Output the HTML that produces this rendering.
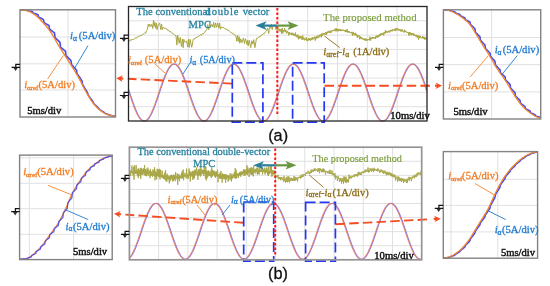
<!DOCTYPE html><html><head><meta charset="utf-8"><style>html,body{margin:0;padding:0;background:#fff;}svg{display:block;}</style></head><body>
<svg width="550" height="286" viewBox="0 0 550 286">
<rect width="550" height="286" fill="#fff"/>
<line x1="68" y1="10" x2="68" y2="117" stroke="#e0e0e0" stroke-width="1"/>
<line x1="20" y1="37" x2="115.5" y2="37" stroke="#e0e0e0" stroke-width="1"/>
<line x1="20" y1="63.8" x2="115.5" y2="63.8" stroke="#e0e0e0" stroke-width="1"/>
<line x1="20" y1="90" x2="115.5" y2="90" stroke="#e0e0e0" stroke-width="1"/>
<polyline points="20,9.8 20.5,9.8 21,9.8 21.5,9.8 22,9.9 22.5,9.93 23,9.96 23.5,9.99 24,10.01 24.5,10.04 25,10.06 25.5,10.08 26,10.11 26.5,10.13 27,10.15 27.5,10.65 28,10.73 28.5,10.81 29,10.89 29.5,10.97 30,11.06 30.5,11.15 31,11.25 31.5,11.35 32,11.45 32.5,11.56 33,12.98 33.5,13.14 34,13.3 34.5,13.46 35,13.62 35.5,13.79 36,13.97 36.5,14.14 37,14.33 37.5,14.51 38,14.7 38.5,17.01 39,17.26 39.5,17.5 40,17.76 40.5,18.01 41,18.27 41.5,18.53 42,18.8 42.5,19.07 43,19.34 43.5,19.62 44,22.67 44.5,22.96 45,23.25 45.5,23.53 46,23.82 46.5,24.12 47,24.41 47.5,24.71 48,25.01 48.5,25.31 49,25.61 49.5,29.16 50,29.51 50.5,29.88 51,30.25 51.5,30.62 52,31 52.5,31.39 53,31.77 53.5,32.16 54,32.56 54.5,32.96 55,37.63 55.5,38.08 56,38.54 56.5,39 57,39.46 57.5,39.93 58,40.41 58.5,40.88 59,41.36 59.5,41.83 60,42.3 60.5,47.14 61,47.56 61.5,47.97 62,48.38 62.5,48.79 63,49.19 63.5,49.6 64,50 64.5,50.41 65,50.82 65.5,51.23 66,55.77 66.5,56.22 67,56.67 67.5,57.13 68,57.61 68.5,58.1 69,58.59 69.5,59.1 70,59.62 70.5,60.15 71,60.7 71.5,64.55 72,65.07 72.5,65.6 73,66.14 73.5,66.7 74,67.27 74.5,67.86 75,68.46 75.5,69.08 76,69.72 76.5,70.36 77,73.78 77.5,74.41 78,75.05 78.5,75.71 79,76.4 79.5,77.1 80,77.82 80.5,78.57 81,79.34 81.5,80.13 82,80.96 82.5,84.2 83,85.05 83.5,85.93 84,86.8 84.5,87.67 85,88.53 85.5,89.36 86,90.19 86.5,91.03 87,91.89 87.5,92.65 88,94.78 88.5,95.52 89,96.24 89.5,96.96 90,97.66 90.5,98.35 91,99.02 91.5,99.67 92,100.3 92.5,100.92 93,101.51 93.5,103.12 94,103.66 94.5,104.19 95,104.7 95.5,105.2 96,105.69 96.5,106.16 97,106.62 97.5,107.07 98,107.51 98.5,107.93 99,109.07 99.5,109.44 100,109.8 100.5,110.15 101,110.49 101.5,110.82 102,111.13 102.5,111.43 103,111.72 103.5,112.01 104,112.28 104.5,112.99 105,113.23 105.5,113.46 106,113.67 106.5,113.86 107,114.05 107.5,114.22 108,114.38 108.5,114.54 109,114.68 109.5,114.82 110,115.18 110.5,115.31 111,115.43 111.5,115.55 112,115.67 112.5,115.77 113,115.85 113.5,115.93 114,115.99 114.5,116.05 115,116.1 115.5,116.26" fill="none" stroke="#4648f2" stroke-width="1.6" stroke-linejoin="round"/>
<polyline points="20,9.8 20.5,9.84 21,9.89 21.5,9.95 22,10 22.5,10.04 23,10.09 23.5,10.13 24,10.18 24.5,10.24 25,10.31 25.5,10.4 26,10.5 26.5,10.63 27,10.77 27.5,10.92 28,11.09 28.5,11.27 29,11.46 29.5,11.67 30,11.89 30.5,12.13 31,12.38 31.5,12.65 32,12.93 32.5,13.22 33,13.53 33.5,13.85 34,14.18 34.5,14.53 35,14.89 35.5,15.27 36,15.66 36.5,16.07 37,16.49 37.5,16.92 38,17.38 38.5,17.86 39,18.35 39.5,18.86 40,19.37 40.5,19.9 41,20.43 41.5,20.96 42,21.49 42.5,22.03 43,22.57 43.5,23.11 44,23.65 44.5,24.21 45,24.77 45.5,25.34 46,25.92 46.5,26.51 47,27.11 47.5,27.72 48,28.36 48.5,29.02 49,29.7 49.5,30.4 50,31.12 50.5,31.86 51,32.6 51.5,33.36 52,34.15 52.5,34.96 53,35.78 53.5,36.61 54,37.46 54.5,38.32 55,39.19 55.5,40.08 56,40.98 56.5,41.88 57,42.77 57.5,43.66 58,44.52 58.5,45.37 59,46.18 59.5,46.98 60,47.77 60.5,48.55 61,49.32 61.5,50.09 62,50.86 62.5,51.64 63,52.43 63.5,53.23 64,54.03 64.5,54.82 65,55.61 65.5,56.4 66,57.18 66.5,57.95 67,58.73 67.5,59.5 68,60.26 68.5,61.03 69,61.8 69.5,62.58 70,63.35 70.5,64.14 71,64.92 71.5,65.72 72,66.52 72.5,67.32 73,68.12 73.5,68.93 74,69.75 74.5,70.56 75,71.39 75.5,72.22 76,73.06 76.5,73.9 77,74.75 77.5,75.61 78,76.48 78.5,77.35 79,78.24 79.5,79.15 80,80.06 80.5,81 81,81.97 81.5,82.97 82,84 82.5,85.04 83,86.07 83.5,87.09 84,88.08 84.5,89.02 85,89.92 85.5,90.82 86,91.72 86.5,92.62 87,93.5 87.5,94.38 88,95.25 88.5,96.1 89,96.93 89.5,97.75 90,98.54 90.5,99.32 91,100.06 91.5,100.79 92,101.48 92.5,102.16 93,102.82 93.5,103.46 94,104.08 94.5,104.68 95,105.26 95.5,105.83 96,106.37 96.5,106.9 97,107.42 97.5,107.91 98,108.4 98.5,108.86 99,109.3 99.5,109.73 100,110.14 100.5,110.53 101,110.91 101.5,111.27 102,111.61 102.5,111.95 103,112.26 103.5,112.57 104,112.86 104.5,113.14 105,113.41 105.5,113.66 106,113.89 106.5,114.1 107,114.3 107.5,114.48 108,114.65 108.5,114.81 109,114.97 109.5,115.12 110,115.26 110.5,115.4 111,115.54 111.5,115.68 112,115.79 112.5,115.89 113,115.97 113.5,116.03 114,116.1 114.5,116.16 115,116.22 115.5,116.3" fill="none" stroke="#f2862c" stroke-width="1.4" stroke-linejoin="round"/>
<rect x="20" y="9.8" width="95.5" height="107.2" fill="none" stroke="#828282" stroke-width="1.4"/>
<path d="M20,64.3H15.8V67.4M11.6,67.4H20" fill="none" stroke="#111" stroke-width="1.2"/>
<path d="M13.4,67.8L17.8,67.8L15.6,71.1Z" fill="#333"/>
<text x="70.1" y="39" fill="#1c7ad0" stroke="#1c7ad0" stroke-width="0.28" font-family="Liberation Serif, serif" font-style="italic" font-size="10.9">i</text>
<text x="72.9" y="40.6" fill="#1c7ad0" stroke="#1c7ad0" stroke-width="0.28" font-family="Liberation Serif, serif" font-size="7.5">α</text>
<text x="115.3" y="39" fill="#1c7ad0" stroke="#1c7ad0" stroke-width="0.28" font-family="Liberation Serif, sans-serif" font-size="10.6" text-anchor="end">(5A/div)</text>
<line x1="88" y1="45.6" x2="74.3" y2="68.7" stroke="#1c7ad0" stroke-width="0.9"/>
<text x="24.2" y="88.2" fill="#f27a1e" stroke="#f27a1e" stroke-width="0.28" font-family="Liberation Serif, serif" font-style="italic" font-size="10.9">i</text>
<text x="27" y="89.8" fill="#f27a1e" stroke="#f27a1e" stroke-width="0.28" font-family="Liberation Serif, serif" font-size="6.9">αref</text>
<text x="75" y="88.2" fill="#f27a1e" stroke="#f27a1e" stroke-width="0.28" font-family="Liberation Serif, sans-serif" font-size="10.6" text-anchor="end">(5A/div)</text>
<line x1="47.6" y1="79" x2="63.3" y2="55.5" stroke="#f2862c" stroke-width="0.9"/>
<text x="27.2" y="114.2" fill="#111" stroke="#111" stroke-width="0.45" font-family="Liberation Serif, serif" font-size="10.6">5ms/div</text>
<line x1="158.35" y1="6.5" x2="158.35" y2="121" stroke="#e0e0e0" stroke-width="1"/>
<line x1="188.2" y1="6.5" x2="188.2" y2="121" stroke="#e0e0e0" stroke-width="1"/>
<line x1="218.05" y1="6.5" x2="218.05" y2="121" stroke="#e0e0e0" stroke-width="1"/>
<line x1="247.9" y1="6.5" x2="247.9" y2="121" stroke="#e0e0e0" stroke-width="1"/>
<line x1="277.75" y1="6.5" x2="277.75" y2="121" stroke="#e0e0e0" stroke-width="1"/>
<line x1="307.6" y1="6.5" x2="307.6" y2="121" stroke="#e0e0e0" stroke-width="1"/>
<line x1="337.45" y1="6.5" x2="337.45" y2="121" stroke="#e0e0e0" stroke-width="1"/>
<line x1="367.3" y1="6.5" x2="367.3" y2="121" stroke="#e0e0e0" stroke-width="1"/>
<line x1="397.15" y1="6.5" x2="397.15" y2="121" stroke="#e0e0e0" stroke-width="1"/>
<line x1="128.5" y1="20.81" x2="427" y2="20.81" stroke="#e0e0e0" stroke-width="1"/>
<line x1="128.5" y1="35.12" x2="427" y2="35.12" stroke="#e0e0e0" stroke-width="1"/>
<line x1="128.5" y1="49.44" x2="427" y2="49.44" stroke="#e0e0e0" stroke-width="1"/>
<line x1="128.5" y1="63.75" x2="427" y2="63.75" stroke="#e0e0e0" stroke-width="1"/>
<line x1="128.5" y1="78.06" x2="427" y2="78.06" stroke="#e0e0e0" stroke-width="1"/>
<line x1="128.5" y1="92.38" x2="427" y2="92.38" stroke="#e0e0e0" stroke-width="1"/>
<line x1="128.5" y1="106.69" x2="427" y2="106.69" stroke="#e0e0e0" stroke-width="1"/>
<polyline points="128.5,89.07 129,90.57 129.5,92.07 130,93.57 130.5,95.07 131,96.56 131.5,98.04 132,99.51 132.5,100.95 133,102.38 133.5,103.77 134,105.14 134.5,106.47 135,107.76 135.5,109.01 136,110.21 136.5,111.37 137,112.47 137.5,113.52 138,114.51 138.5,115.44 139,116.31 139.5,117.11 140,117.84 140.5,118.5 141,119.09 141.5,119.61 142,120.05 142.5,120.41 143,120.7 143.5,120.91 144,121.05 144.5,121.1 145,121.07 145.5,120.97 146,120.78 146.5,120.52 147,120.18 147.5,119.77 148,119.27 148.5,118.71 149,118.07 149.5,117.36 150,116.59 150.5,115.74 151,114.83 151.5,113.86 152,112.83 152.5,111.75 153,110.61 153.5,109.42 154,108.19 154.5,106.91 155,105.59 155.5,104.24 156,102.85 156.5,101.44 157,100 157.5,98.54 158,97.06 158.5,95.58 159,94.08 159.5,92.58 160,91.08 160.5,89.58 161,88.09 161.5,86.62 162,85.16 162.5,83.72 163,82.31 163.5,80.92 164,79.57 164.5,78.25 165,76.97 165.5,75.74 166,74.55 166.5,73.42 167,72.33 167.5,71.31 168,70.34 168.5,69.43 169,68.59 169.5,67.82 170,67.11 170.5,66.47 171,65.91 171.5,65.42 172,65.01 172.5,64.67 173,64.41 173.5,64.23 174,64.13 174.5,64.1 175,64.16 175.5,64.29 176,64.5 176.5,64.79 177,65.16 177.5,65.61 178,66.13 178.5,66.72 179,67.38 179.5,68.12 180,68.92 180.5,69.79 181,70.72 181.5,71.71 182,72.76 182.5,73.87 183,75.02 183.5,76.23 184,77.48 184.5,78.77 185,80.1 185.5,81.47 186,82.87 186.5,84.29 187,85.74 187.5,87.2 188,88.69 188.5,90.18 189,91.68 189.5,93.18 190,94.68 190.5,96.17 191,97.66 191.5,99.13 192,100.58 192.5,102.01 193,103.41 193.5,104.78 194,106.12 194.5,107.43 195,108.69 195.5,109.9 196,111.07 196.5,112.19 197,113.25 197.5,114.26 198,115.2 198.5,116.09 199,116.9 199.5,117.65 200,118.34 200.5,118.94 201,119.48 201.5,119.94 202,120.33 202.5,120.64 203,120.87 203.5,121.02 204,121.09 204.5,121.09 205,121 205.5,120.84 206,120.6 206.5,120.28 207,119.88 207.5,119.41 208,118.86 208.5,118.24 209,117.55 209.5,116.79 210,115.97 210.5,115.08 211,114.12 211.5,113.11 212,112.04 212.5,110.91 213,109.74 213.5,108.51 214,107.25 214.5,105.94 215,104.59 215.5,103.22 216,101.81 216.5,100.38 217,98.92 217.5,97.45 218,95.96 218.5,94.47 219,92.97 219.5,91.47 220,89.97 220.5,88.48 221,87 221.5,85.53 222,84.09 222.5,82.67 223,81.28 223.5,79.92 224,78.59 224.5,77.3 225,76.06 225.5,74.86 226,73.71 226.5,72.61 227,71.57 227.5,70.58 228,69.66 228.5,68.8 229,68.01 229.5,67.29 230,66.63 230.5,66.05 231,65.54 231.5,65.11 232,64.75 232.5,64.47 233,64.27 233.5,64.14 234,64.1 234.5,64.13 235,64.25 235.5,64.44 236,64.71 236.5,65.06 237,65.48 237.5,65.98 238,66.56 238.5,67.2 239,67.92 239.5,68.7 240,69.56 240.5,70.47 241,71.45 241.5,72.48 242,73.57 242.5,74.72 243,75.91 243.5,77.15 244,78.43 244.5,79.75 245,81.11 245.5,82.5 246,83.92 246.5,85.36 247,86.82 247.5,88.3 248,89.79 248.5,91.29 249,92.79 249.5,94.29 250,95.78 250.5,97.27 251,98.75 251.5,100.2 252,101.64 252.5,103.05 253,104.43 253.5,105.78 254,107.09 254.5,108.36 255,109.59 255.5,110.77 256,111.9 256.5,112.98 257,114 257.5,114.96 258,115.86 258.5,116.7 259,117.47 259.5,118.16 260,118.79 260.5,119.35 261,119.83 261.5,120.23 262,120.56 262.5,120.81 263,120.99 263.5,121.08 264,121.1 264.5,121.03 265,120.89 265.5,120.67 266,120.37 266.5,119.99 267,119.54 267.5,119.01 268,118.41 268.5,117.74 269,117 269.5,116.19 270,115.31 270.5,114.38 271,113.38 271.5,112.32 272,111.21 272.5,110.05 273,108.84 273.5,107.58 274,106.28 274.5,104.95 275,103.58 275.5,102.18 276,100.75 276.5,99.3 277,97.83 277.5,96.35 278,94.86 278.5,93.36 279,91.86 279.5,90.36 280,88.86 280.5,87.38 281,85.91 281.5,84.46 282,83.04 282.5,81.64 283,80.27 283.5,78.93 284,77.63 284.5,76.38 285,75.16 285.5,74 286,72.89 286.5,71.83 287,70.83 287.5,69.9 288,69.02 288.5,68.21 289,67.47 289.5,66.79 290,66.19 290.5,65.67 291,65.21 291.5,64.83 292,64.53 292.5,64.31 293,64.17 293.5,64.1 294,64.12 294.5,64.21 295,64.38 295.5,64.63 296,64.96 296.5,65.37 297,65.85 297.5,66.4 298,67.03 298.5,67.73 299,68.49 299.5,69.33 300,70.23 300.5,71.19 301,72.21 301.5,73.28 302,74.41 302.5,75.6 303,76.82 303.5,78.1 304,79.41 304.5,80.76 305,82.14 305.5,83.55 306,84.98 306.5,86.44 307,87.91 307.5,89.4 308,90.9 308.5,92.4 309,93.9 309.5,95.4 310,96.89 310.5,98.36 311,99.83 311.5,101.27 312,102.68 312.5,104.07 313,105.43 313.5,106.75 314,108.04 314.5,109.28 315,110.47 315.5,111.62 316,112.71 316.5,113.74 317,114.72 317.5,115.64 318,116.49 318.5,117.27 319,117.99 319.5,118.64 320,119.21 320.5,119.71 321,120.14 321.5,120.49 322,120.76 322.5,120.95 323,121.06 323.5,121.1 324,121.06 324.5,120.93 325,120.73 325.5,120.45 326,120.1 326.5,119.66 327,119.16 327.5,118.58 328,117.92 328.5,117.2 329,116.41 329.5,115.55 330,114.63 330.5,113.64 331,112.6 331.5,111.5 332,110.35 332.5,109.16 333,107.91 333.5,106.62 334,105.3 334.5,103.94 335,102.54 335.5,101.12 336,99.68 336.5,98.22 337,96.74 337.5,95.25 338,93.75 338.5,92.25 339,90.75 339.5,89.25 340,87.77 340.5,86.29 341,84.84 341.5,83.41 342,82 342.5,80.62 343,79.27 343.5,77.97 344,76.7 344.5,75.47 345,74.3 345.5,73.17 346,72.1 346.5,71.09 347,70.13 347.5,69.24 348,68.41 348.5,67.65 349,66.96 349.5,66.34 350,65.8 350.5,65.32 351,64.93 351.5,64.61 352,64.36 352.5,64.2 353,64.11 353.5,64.11 354,64.18 354.5,64.33 355,64.56 355.5,64.87 356,65.25 356.5,65.71 357,66.25 357.5,66.86 358,67.54 358.5,68.29 359,69.1 359.5,69.99 360,70.93 360.5,71.94 361,73 361.5,74.12 362,75.28 362.5,76.5 363,77.76 363.5,79.06 364,80.4 364.5,81.78 365,83.18 365.5,84.61 366,86.06 366.5,87.53 367,89.01 367.5,90.51 368,92.01 368.5,93.51 369,95.01 369.5,96.5 370,97.98 370.5,99.45 371,100.89 371.5,102.32 372,103.72 372.5,105.08 373,106.41 373.5,107.71 374,108.96 374.5,110.17 375,111.32 375.5,112.43 376,113.48 376.5,114.47 377,115.4 377.5,116.27 378,117.08 378.5,117.81 379,118.48 379.5,119.07 380,119.59 380.5,120.03 381,120.4 381.5,120.69 382,120.91 382.5,121.04 383,121.1 383.5,121.08 384,120.97 384.5,120.79 385,120.53 385.5,120.2 386,119.78 386.5,119.3 387,118.73 387.5,118.1 388,117.39 388.5,116.62 389,115.78 389.5,114.87 390,113.9 390.5,112.88 391,111.79 391.5,110.66 392,109.47 392.5,108.24 393,106.96 393.5,105.65 394,104.29 394.5,102.91 395,101.5 395.5,100.06 396,98.6 396.5,97.12 397,95.63 397.5,94.14 398,92.64 398.5,91.14 399,89.64 399.5,88.15 400,86.68 400.5,85.22 401,83.78 401.5,82.36 402,80.97 402.5,79.62 403,78.3 403.5,77.02 404,75.79 404.5,74.6 405,73.46 405.5,72.38 406,71.35 406.5,70.38 407,69.47 407.5,68.62 408,67.84 408.5,67.14 409,66.5 409.5,65.93 410,65.44 410.5,65.02 411,64.68 411.5,64.42 412,64.23 412.5,64.13 413,64.1 413.5,64.15 414,64.28 414.5,64.49 415,64.78 415.5,65.15 416,65.59 416.5,66.1 417,66.69 417.5,67.35 418,68.09 418.5,68.89 419,69.75 419.5,70.68 420,71.67 420.5,72.72 421,73.82 421.5,74.98 422,76.18 422.5,77.43 423,78.72 423.5,80.05 424,81.41 424.5,82.81 425,84.23 425.5,85.68 426,87.15 426.5,88.63 427,90.12" fill="none" stroke="#6656f0" stroke-width="1.1" stroke-linejoin="round" stroke-opacity="0.8"/>
<polyline points="128.5,91.17 129,92.67 129.5,94.17 130,95.66 130.5,97.15 131,98.63 131.5,100.09 132,101.52 132.5,102.94 133,104.32 133.5,105.67 134,106.99 134.5,108.26 135,109.5 135.5,110.68 136,111.82 136.5,112.9 137,113.92 137.5,114.89 138,115.79 138.5,116.63 139,117.41 139.5,118.11 140,118.75 140.5,119.31 141,119.79 141.5,120.2 142,120.54 142.5,120.8 143,120.98 143.5,121.08 144,121.1 144.5,121.04 145,120.9 145.5,120.69 146,120.4 146.5,120.02 147,119.58 147.5,119.06 148,118.46 148.5,117.8 149,117.06 149.5,116.26 150,115.39 150.5,114.45 151,113.46 151.5,112.41 152,111.3 152.5,110.14 153,108.93 153.5,107.68 154,106.39 154.5,105.06 155,103.69 155.5,102.29 156,100.87 156.5,99.42 157,97.95 157.5,96.47 158,94.98 158.5,93.48 159,91.98 159.5,90.48 160,88.98 160.5,87.5 161,86.03 161.5,84.58 162,83.15 162.5,81.75 163,80.37 163.5,79.04 164,77.73 164.5,76.47 165,75.26 165.5,74.09 166,72.98 166.5,71.92 167,70.91 167.5,69.97 168,69.09 168.5,68.27 169,67.52 169.5,66.85 170,66.24 170.5,65.7 171,65.25 171.5,64.86 172,64.56 172.5,64.33 173,64.18 173.5,64.11 174,64.11 174.5,64.2 175,64.37 175.5,64.61 176,64.93 176.5,65.33 177,65.81 177.5,66.35 178,66.98 178.5,67.67 179,68.43 179.5,69.26 180,70.15 180.5,71.11 181,72.12 181.5,73.2 182,74.32 182.5,75.5 183,76.72 183.5,77.99 184,79.3 184.5,80.65 185,82.03 185.5,83.43 186,84.87 186.5,86.32 187,87.8 187.5,89.28 188,90.78 188.5,92.28 189,93.78 189.5,95.28 190,96.77 190.5,98.25 191,99.71 191.5,101.15 192,102.57 192.5,103.96 193,105.32 193.5,106.65 194,107.94 194.5,109.18 195,110.38 195.5,111.53 196,112.62 196.5,113.66 197,114.64 197.5,115.56 198,116.42 198.5,117.21 199,117.94 199.5,118.59 200,119.17 200.5,119.67 201,120.11 201.5,120.46 202,120.74 202.5,120.94 203,121.06 203.5,121.1 204,121.06 204.5,120.95 205,120.75 205.5,120.48 206,120.13 206.5,119.7 207,119.2 207.5,118.62 208,117.98 208.5,117.26 209,116.47 209.5,115.62 210,114.7 210.5,113.72 211,112.69 211.5,111.59 212,110.45 212.5,109.25 213,108.01 213.5,106.73 214,105.41 214.5,104.05 215,102.66 215.5,101.24 216,99.8 216.5,98.33 217,96.86 217.5,95.37 218,93.87 218.5,92.37 219,90.87 219.5,89.37 220,87.88 220.5,86.41 221,84.95 221.5,83.52 222,82.11 222.5,80.73 223,79.38 223.5,78.07 224,76.8 224.5,75.57 225,74.39 225.5,73.26 226,72.19 226.5,71.17 227,70.21 227.5,69.31 228,68.48 228.5,67.71 229,67.02 229.5,66.39 230,65.84 230.5,65.36 231,64.95 231.5,64.63 232,64.38 232.5,64.21 233,64.12 233.5,64.1 234,64.17 234.5,64.32 235,64.54 235.5,64.84 236,65.22 236.5,65.68 237,66.2 237.5,66.81 238,67.48 238.5,68.23 239,69.04 239.5,69.91 240,70.85 240.5,71.85 241,72.91 241.5,74.02 242,75.19 242.5,76.4 243,77.66 243.5,78.96 244,80.29 244.5,81.66 245,83.07 245.5,84.49 246,85.94 246.5,87.41 247,88.89 247.5,90.39 248,91.89 248.5,93.39 249,94.89 249.5,96.38 250,97.86 250.5,99.33 251,100.78 251.5,102.21 252,103.61 252.5,104.97 253,106.31 253.5,107.61 254,108.86 254.5,110.07 255,111.23 255.5,112.34 256,113.4 256.5,114.39 257,115.33 257.5,116.21 258,117.01 258.5,117.75 259,118.42 259.5,119.02 260,119.55 260.5,120 261,120.38 261.5,120.67 262,120.89 262.5,121.03 263,121.1 263.5,121.08 264,120.98 264.5,120.81 265,120.56 265.5,120.23 266,119.82 266.5,119.34 267,118.78 267.5,118.15 268,117.45 268.5,116.68 269,115.85 269.5,114.95 270,113.98 270.5,112.96 271,111.88 271.5,110.75 272,109.57 272.5,108.34 273,107.07 273.5,105.75 274,104.4 274.5,103.02 275,101.61 275.5,100.17 276,98.72 276.5,97.24 277,95.75 277.5,94.26 278,92.76 278.5,91.26 279,89.76 279.5,88.27 280,86.79 280.5,85.33 281,83.89 281.5,82.47 282,81.08 282.5,79.73 283,78.41 283.5,77.12 284,75.89 284.5,74.69 285,73.55 285.5,72.46 286,71.43 286.5,70.45 287,69.54 287.5,68.69 288,67.9 288.5,67.19 289,66.55 289.5,65.97 290,65.48 290.5,65.05 291,64.71 291.5,64.44 292,64.25 292.5,64.13 293,64.1 293.5,64.15 294,64.27 294.5,64.47 295,64.76 295.5,65.11 296,65.55 296.5,66.06 297,66.64 297.5,67.3 298,68.03 298.5,68.82 299,69.68 299.5,70.6 300,71.59 300.5,72.63 301,73.73 301.5,74.88 302,76.08 302.5,77.33 303,78.62 303.5,79.94 304,81.3 304.5,82.7 305,84.12 305.5,85.56 306,87.03 306.5,88.51 307,90 307.5,91.5 308,93 308.5,94.5 309,95.99 309.5,97.48 310,98.95 310.5,100.4 311,101.84 311.5,103.24 312,104.62 312.5,105.97 313,107.27 313.5,108.54 314,109.76 314.5,110.94 315,112.06 315.5,113.13 316,114.14 316.5,115.09 317,115.98 317.5,116.81 318,117.57 318.5,118.26 319,118.87 319.5,119.42 320,119.89 320.5,120.29 321,120.6 321.5,120.84 322,121.01 322.5,121.09 323,121.09 323.5,121.02 324,120.86 324.5,120.63 325,120.32 325.5,119.93 326,119.47 326.5,118.93 327,118.32 327.5,117.64 328,116.89 328.5,116.07 329,115.19 329.5,114.24 330,113.23 330.5,112.17 331,111.05 331.5,109.88 332,108.66 332.5,107.4 333,106.1 333.5,104.76 334,103.38 334.5,101.98 335,100.55 335.5,99.1 336,97.63 336.5,96.14 337,94.65 337.5,93.15 338,91.65 338.5,90.15 339,88.66 339.5,87.18 340,85.71 340.5,84.26 341,82.84 341.5,81.44 342,80.08 342.5,78.75 343,77.45 343.5,76.2 344,75 344.5,73.84 345,72.74 345.5,71.69 346,70.7 346.5,69.77 347,68.9 347.5,68.1 348,67.37 348.5,66.71 349,66.11 349.5,65.6 350,65.15 350.5,64.79 351,64.5 351.5,64.29 352,64.16 352.5,64.1 353,64.13 353.5,64.23 354,64.41 354.5,64.68 355,65.01 355.5,65.43 356,65.92 356.5,66.48 357,67.12 357.5,67.83 358,68.61 358.5,69.45 359,70.36 359.5,71.33 360,72.35 360.5,73.44 361,74.58 361.5,75.76 362,77 362.5,78.28 363,79.59 363.5,80.95 364,82.33 364.5,83.75 365,85.19 365.5,86.65 366,88.12 366.5,89.61 367,91.11 367.5,92.61 368,94.11 368.5,95.6 369,97.09 369.5,98.57 370,100.03 370.5,101.47 371,102.88 371.5,104.27 372,105.62 372.5,106.94 373,108.21 373.5,109.45 374,110.63 374.5,111.77 375,112.86 375.5,113.88 376,114.85 376.5,115.76 377,116.6 377.5,117.38 378,118.08 378.5,118.72 379,119.29 379.5,119.78 380,120.19 380.5,120.53 381,120.79 381.5,120.97 382,121.07 382.5,121.1 383,121.04 383.5,120.91 384,120.7 384.5,120.41 385,120.04 385.5,119.6 386,119.08 386.5,118.49 387,117.82 387.5,117.09 388,116.29 388.5,115.42 389,114.49 389.5,113.5 390,112.45 390.5,111.35 391,110.19 391.5,108.98 392,107.73 392.5,106.44 393,105.11 393.5,103.74 394,102.35 394.5,100.92 395,99.48 395.5,98.01 396,96.53 396.5,95.04 397,93.54 397.5,92.04 398,90.54 398.5,89.04 399,87.56 399.5,86.09 400,84.64 400.5,83.21 401,81.8 401.5,80.43 402,79.09 402.5,77.79 403,76.52 403.5,75.31 404,74.14 404.5,73.02 405,71.96 405.5,70.95 406,70.01 406.5,69.12 407,68.3 407.5,67.55 408,66.87 408.5,66.26 409,65.72 409.5,65.26 410,64.88 410.5,64.57 411,64.34 411.5,64.18 412,64.11 412.5,64.11 413,64.2 413.5,64.36 414,64.6 414.5,64.92 415,65.31 415.5,65.79 416,66.33 416.5,66.95 417,67.64 417.5,68.4 418,69.22 418.5,70.12 419,71.07 419.5,72.08 420,73.15 420.5,74.28 421,75.45 421.5,76.67 422,77.94 422.5,79.25 423,80.59 423.5,81.97 424,83.38 424.5,84.81 425,86.26 425.5,87.74 426,89.22 426.5,90.72 427,92.22" fill="none" stroke="#e77a58" stroke-width="1.05" stroke-linejoin="round" stroke-opacity="0.85"/>
<polyline points="128.5,40.56 129.4,41.16 130.3,39.73 131.2,40.6 132.1,39.08 133,39.89 133.9,38.87 134.8,38.84 135.7,37.46 136.6,38.15 137.5,36.62 138.4,36.88 139.3,36.03 140.2,36.07 141.1,35.03 142,35.3 142.9,34.35 143.8,33.92 144.7,32.93 145.6,33.05 146.5,30.45 147.4,29.29 148.3,24.24 148.98,26.56 149.7,24.2 150.83,26.49 151.75,24.25 152.76,28.49 153.54,20.07 154.18,26.34 154.78,22.16 155.57,28.16 156.36,22.94 156.99,29.7 158.1,24.73 158.92,24.19 159.63,22.93 160.79,29.64 161.6,24.11 162.26,29.58 163.38,27.12 164.28,28.29 165.18,28.1 166.08,28.96 166.98,28.89 167.88,30.56 168.78,30.31 169.68,31.85 170.58,31.51 171.48,32.81 172.38,33.08 173.28,34.12 174.18,34.63 175.08,35.46 175.98,35.5 176.88,45.08 177.64,35.27 179.23,43.38 180.23,37.44 181.43,46.57 182.48,38.91 183.14,47.71 183.77,39.38 185.21,42.42 186.54,40.86 187.77,47.02 188.48,39.31 189.23,47.42 190.12,39.35 191.72,47.29 193.3,39.07 194.2,39.29 195.1,37.9 196,38.15 196.9,37 197.8,36.9 198.7,36 199.6,35.9 200.5,34.5 201.4,35.39 202.3,33.77 203.2,33.97 204.1,32.68 205,31.94 205.9,30.37 206.8,29.81 207.7,24.69 208.77,29.63 209.77,22.61 210.79,26.68 211.85,24.47 212.84,27.08 213.59,22.45 214.68,27.95 215.49,22.81 216.59,27.23 217.71,22.99 218.88,28.21 219.58,22.91 220.47,29.22 221.51,26.68 222.41,27.72 223.31,27.2 224.21,28.54 225.11,28.28 226.01,29.55 226.91,29.12 227.81,30.68 228.71,30.31 229.61,31.42 230.51,31.91 231.41,32.99 232.31,32.89 233.21,34.17 234.11,34.2 235.01,35.77 235.91,35.91 236.81,41.34 237.64,35.26 238.37,41.31 239.15,36.67 239.79,43.23 240.77,38.83 241.96,42.65 243.46,37.91 244.46,43.57 245.47,38.64 246.91,44.56 247.54,40.33 248.24,45.83 249.18,40.26 250.73,47.68 251.75,40.76 253,44.15 253.74,39.65 254.9,47.66 256.47,38.35 257.37,38.52 258.27,37.09 259.17,37.1 260.07,36.37 260.97,36.17 261.87,34.67 262.77,34.49 263.67,33.19 264.57,33.45 265.47,31.73 266.37,30.96 267.55,28.09 268.7,33.44 269.6,25.91 270.79,28.29 271.46,24.25 272.24,29.68 272.85,26.34 273.92,24.81 275.11,25.32 275.99,29.85 277.04,26.89 277.5,28 277.5,28.38 278.1,30.07 278.7,28.43 279.3,31.32 279.9,29.1 280.5,31.42 281.1,28.84 281.7,33.7 282.3,27.94 282.9,33.31 283.5,30.3 284.1,31.45 284.7,28.26 285.3,31.87 285.9,30.19 286.5,33.44 287.1,30.86 287.7,32.67 288.3,32.16 288.9,35.43 289.5,32.04 290.1,33.9 290.7,33.02 291.3,35.05 291.9,32.62 292.5,34.72 293.1,33.14 293.7,35.52 294.3,33.93 294.9,36.04 295.5,32.6 296.1,36.65 296.7,35.21 297.3,37.58 297.9,34.62 298.5,39.28 299.1,36.04 299.7,38.47 300.3,35.95 300.9,38.48 301.5,36.6 302.1,39.95 302.7,35.5 303.3,39.36 303.9,37.62 304.5,40.33 305.1,38.72 305.7,39.69 306.3,37.33 306.9,41.1 307.5,39.24 308.1,40.72 308.7,38.24 309.3,40.18 309.9,38.04 310.5,40.52 311.1,38.42 311.7,40.11 312.3,37 312.9,39.51 313.5,37.66 314.1,38.53 314.7,36.6 315.3,40.59 315.9,36.79 316.5,38.67 317.1,35.78 317.7,38.15 318.3,35.56 318.9,37.54 319.5,34.8 320.1,36.26 320.7,34.29 321.3,37.49 321.9,33.44 322.5,35.97 323.1,32.94 323.7,34.34 324.3,33.13 324.9,34.7 325.5,32.25 326.1,35 326.7,32.11 327.3,33.4 327.9,31.24 328.5,32.66 329.1,30.76 329.7,32.84 330.3,30.78 330.9,33.04 331.5,30.63 332.1,31.56 332.7,30.05 333.3,30.75 333.9,29.8 334.5,31.06 335.1,28.65 335.7,31.22 336.3,28.28 336.9,31.3 337.5,29.06 338.1,31.27 338.7,28.98 339.3,30.73 339.9,28.91 340.5,31.1 341.1,29.53 341.7,30.97 342.3,29.73 342.9,30.95 343.5,29.72 344.1,31.07 344.7,30.34 345.3,32.1 345.9,29.77 346.5,31.98 347.1,29.22 347.7,32.67 348.3,30.99 348.9,32.49 349.5,31.36 350.1,33.02 350.7,32 351.3,33.19 351.9,31.89 352.5,35.91 353.1,31.9 353.7,34.7 354.3,33.32 354.9,35.32 355.5,32.8 356.1,35.72 356.7,34.13 357.3,37.74 357.9,35.17 358.5,36.68 359.1,35.4 359.7,39.25 360.3,36.44 360.9,38.77 361.5,37.12 362.1,39.23 362.7,37.95 363.3,39.9 363.9,38.62 364.5,40.28 365.1,38.35 365.7,40.75 366.3,38.86 366.9,40.88 367.5,39.21 368.1,40.07 368.7,39.05 369.3,40.3 369.9,36.77 370.5,40.55 371.1,37.58 371.7,38.87 372.3,36.93 372.9,38.71 373.5,37.22 374.1,38.45 374.7,37.28 375.3,38.93 375.9,35.91 376.5,37.65 377.1,35.2 377.7,37.56 378.3,35.21 378.9,37.08 379.5,34.3 380.1,36 380.7,33.38 381.3,35.13 381.9,33.41 382.5,34.59 383.1,32.71 383.7,35.42 384.3,31.97 384.9,33.73 385.5,30.14 386.1,32.9 386.7,31.2 387.3,32.72 387.9,31.06 388.5,32.18 389.1,30.44 389.7,32.54 390.3,30.18 390.9,31.31 391.5,29.81 392.1,31.36 392.7,29.14 393.3,30.21 393.9,29.44 394.5,31 395.1,28.44 395.7,31.12 396.3,28.11 396.9,29.97 397.5,28.44 398.1,30.47 398.7,28.85 399.3,30.56 399.9,29.24 400.5,31.36 401.1,29.34 401.7,31.36 402.3,29.58 402.9,31.53 403.5,30.79 404.1,32.53 404.7,29.85 405.3,32 405.9,30.99 406.5,32.54 407.1,31.91 407.7,32.97 408.3,32.19 408.9,35.7 409.5,32.17 410.1,34.8 410.7,32.59 411.3,35.23 411.9,33.05 412.5,34.68 413.1,33.17 413.7,35.98 414.3,33.95 414.9,35.47 415.5,34.87 416.1,36.91 416.7,34.93 417.3,37.72 417.9,35.37 418.5,39.47 419.1,35.54 419.7,38.17 420.3,35.94 420.9,37.81 421.5,37.05 422.1,38.41 422.7,36.07 423.3,38.61 423.9,36.78 424.5,39.5 425.1,36.98 425.7,39.3 426.3,38.46 426.9,39.3" fill="none" stroke="#a8a640" stroke-width="1" stroke-linejoin="round"/>
<line x1="232.3" y1="83.6" x2="127.79" y2="78.82" stroke="#f64c22" stroke-width="1.9" stroke-dasharray="9.5,4.2"/>
<line x1="123.29" y1="78.62" x2="120.3" y2="78.48" stroke="#f64c22" stroke-width="2.1"/>
<path d="M116.3,78.3L122.84,75.3L120.9,78.51L122.54,81.89Z" fill="#f64c22"/>
<line x1="324.5" y1="85.7" x2="430.5" y2="85.7" stroke="#f64c22" stroke-width="1.9" stroke-dasharray="9.5,4.2"/>
<line x1="435" y1="85.7" x2="438" y2="85.7" stroke="#f64c22" stroke-width="2.1"/>
<path d="M442,85.7L435.6,89L437.4,85.7L435.6,82.4Z" fill="#f64c22"/>
<rect x="232.3" y="62.8" width="30.6" height="59.4" fill="none" stroke="#2438f2" stroke-width="1.7" stroke-dasharray="10,4"/>
<rect x="292.6" y="62.8" width="31.6" height="59.4" fill="none" stroke="#2438f2" stroke-width="1.7" stroke-dasharray="10,4"/>
<line x1="277.3" y1="8" x2="277.3" y2="115.5" stroke="#ff1c1c" stroke-width="2" stroke-dasharray="2.6,1.9"/>
<line x1="264" y1="25.6" x2="277.3" y2="25.6" stroke="#2a7f98" stroke-width="2.2"/>
<path d="M255.5,25.6L266.5,21.3L264,25.6L266.5,29.9Z" fill="#2a7f98"/>
<line x1="277.3" y1="25.6" x2="290" y2="25.6" stroke="#6a9640" stroke-width="2.2"/>
<path d="M298.5,25.6L287.5,21.3L290,25.6L287.5,29.9Z" fill="#6a9640"/>
<rect x="128.5" y="6.5" width="298.5" height="114.5" fill="none" stroke="#262626" stroke-width="1.3"/>
<path d="M128.3,35.2H124.1V38.3M119.9,38.3H128.3" fill="none" stroke="#111" stroke-width="1.2"/>
<path d="M121.7,38.7L126.1,38.7L123.9,42Z" fill="#333"/>
<path d="M128.3,92.4H124.1V95.5M119.9,95.5H128.3" fill="none" stroke="#111" stroke-width="1.2"/>
<path d="M121.7,95.9L126.1,95.9L123.9,99.2Z" fill="#333"/>
<text x="136.3" y="14.6" fill="#25819f" stroke="#25819f" stroke-width="0.28" font-family="Liberation Serif, serif" font-size="10.6">The conventional</text>
<text x="205.6" y="14.6" fill="#25819f" stroke="#25819f" stroke-width="0.28" font-family="Liberation Serif, serif" font-size="10.6" textLength="32.8" lengthAdjust="spacing">double</text>
<text x="242.8" y="14.6" fill="#25819f" stroke="#25819f" stroke-width="0.28" font-family="Liberation Serif, serif" font-size="10.6">vector</text>
<text x="188.6" y="27.8" fill="#25819f" stroke="#25819f" stroke-width="0.28" font-family="Liberation Serif, serif" font-size="10.6">MPC</text>
<text x="323.1" y="20.6" fill="#789a36" stroke="#789a36" stroke-width="0.12" font-family="Liberation Serif, serif" font-size="10.72">The proposed method</text>
<text x="128" y="63" fill="#f27a1e" stroke="#f27a1e" stroke-width="0.28" font-family="Liberation Serif, serif" font-style="italic" font-size="10.9">i</text>
<text x="130.8" y="64.6" fill="#f27a1e" stroke="#f27a1e" stroke-width="0.28" font-family="Liberation Serif, serif" font-size="6.9">αref</text>
<text x="181.3" y="63" fill="#f27a1e" stroke="#f27a1e" stroke-width="0.28" font-family="Liberation Serif, sans-serif" font-size="10.6" text-anchor="end">(5A/div)</text>
<text x="189.4" y="63" fill="#1c7ad0" stroke="#1c7ad0" stroke-width="0.28" font-family="Liberation Serif, serif" font-style="italic" font-size="10.5">i</text>
<text x="192.2" y="64.6" fill="#1c7ad0" stroke="#1c7ad0" stroke-width="0.28" font-family="Liberation Serif, serif" font-size="7.5">α</text>
<text x="234.9" y="63" fill="#1c7ad0" stroke="#1c7ad0" stroke-width="0.28" font-family="Liberation Serif, sans-serif" font-size="10.2" text-anchor="end">(5A/div)</text>
<line x1="155" y1="64" x2="165" y2="73" stroke="#f2862c" stroke-width="0.9"/>
<line x1="190" y1="63" x2="183" y2="74" stroke="#1c7ad0" stroke-width="0.9"/>
<text x="323.3" y="54.9" fill="#8a6a12" stroke="#8a6a12" stroke-width="0.28" font-family="Liberation Serif, serif" font-size="10.5"><tspan font-style="italic" font-size="11">i</tspan><tspan font-size="7.6" dy="1.8">αref</tspan><tspan dy="-1.8" font-style="italic">-i</tspan><tspan font-size="7.6" dy="1.8">α</tspan></text>
<text x="353.2" y="54.9" fill="#8a6a12" stroke="#8a6a12" stroke-width="0.28" font-family="Liberation Serif, serif" font-size="10.5">(1A/div)</text>
<line x1="324.4" y1="36" x2="339.7" y2="47.6" stroke="#8a6a12" stroke-width="0.9"/>
<text x="390.3" y="118.5" fill="#111" stroke="#111" stroke-width="0.45" font-family="Liberation Serif, serif" font-size="10.6">10ms/div</text>
<line x1="491.6" y1="9.8" x2="491.6" y2="119" stroke="#e0e0e0" stroke-width="1"/>
<line x1="443.4" y1="37.5" x2="540.7" y2="37.5" stroke="#e0e0e0" stroke-width="1"/>
<line x1="443.4" y1="64.6" x2="540.7" y2="64.6" stroke="#e0e0e0" stroke-width="1"/>
<line x1="443.4" y1="91.9" x2="540.7" y2="91.9" stroke="#e0e0e0" stroke-width="1"/>
<polyline points="443.4,9.8 443.9,9.8 444.4,9.8 444.9,9.8 445.4,9.93 445.9,9.95 446.4,9.98 446.9,10 447.4,10.03 447.9,10.06 448.41,10.1 448.91,10.14 449.41,10.19 449.91,10.25 450.41,10.79 450.91,10.89 451.41,11 451.91,11.12 452.41,11.24 452.91,11.37 453.41,11.5 453.91,11.65 454.41,11.79 454.91,11.94 455.41,12.96 455.91,13.13 456.41,13.3 456.91,13.47 457.41,13.64 457.91,13.81 458.42,13.99 458.92,14.17 459.42,14.36 459.92,14.55 460.42,15.89 460.92,16.1 461.42,16.33 461.92,16.56 462.42,16.79 462.92,17.02 463.42,17.26 463.92,17.5 464.42,17.75 464.92,18 465.42,19.69 465.92,19.94 466.42,20.18 466.92,20.43 467.42,20.68 467.93,20.94 468.43,21.2 468.93,21.48 469.43,21.76 469.93,22.06 470.43,24.49 470.93,24.93 471.43,25.38 471.93,25.83 472.43,26.3 472.93,26.77 473.43,27.26 473.93,27.75 474.43,28.25 474.93,28.75 475.43,32.19 475.93,32.72 476.43,33.25 476.93,33.77 477.43,34.3 477.94,34.83 478.44,35.35 478.94,35.87 479.44,36.38 479.94,36.9 480.44,40.33 480.94,40.85 481.44,41.38 481.94,41.9 482.44,42.43 482.94,42.96 483.44,43.48 483.94,44.01 484.44,44.53 484.94,45.06 485.44,48.49 485.94,49 486.44,49.5 486.94,50 487.45,50.5 487.95,50.99 488.45,51.48 488.95,51.97 489.45,52.47 489.95,52.96 490.45,56.31 490.95,56.84 491.45,57.38 491.95,57.93 492.45,58.48 492.95,59.03 493.45,59.59 493.95,60.15 494.45,60.72 494.95,61.29 495.45,65.01 495.95,65.56 496.45,66.11 496.95,66.64 497.46,67.17 497.96,67.69 498.46,68.21 498.96,68.71 499.46,69.2 499.96,69.68 500.46,72.73 500.96,73.17 501.46,73.62 501.96,74.06 502.46,74.5 502.96,74.93 503.46,75.37 503.96,75.81 504.46,76.26 504.96,76.7 505.46,79.74 505.96,80.23 506.46,80.72 506.97,81.22 507.47,81.72 507.97,82.23 508.47,82.75 508.97,83.27 509.47,83.8 509.97,84.33 510.47,87.88 510.97,88.41 511.47,88.94 511.97,89.46 512.47,89.99 512.97,90.5 513.47,91.02 513.97,91.54 514.47,92.06 514.97,92.58 515.47,96.03 515.97,96.54 516.47,97.05 516.98,97.55 517.48,98.04 517.98,98.52 518.48,99 518.98,99.47 519.48,99.93 519.98,100.38 520.48,103.18 520.98,103.58 521.48,103.97 521.98,104.36 522.48,104.74 522.98,105.11 523.48,105.48 523.98,105.84 524.48,106.2 524.98,106.54 525.48,108.67 525.98,108.96 526.49,109.25 526.99,109.52 527.49,109.79 527.99,110.05 528.49,110.31 528.99,110.57 529.49,110.82 529.99,111.06 530.49,112.64 530.99,112.88 531.49,113.11 531.99,113.35 532.49,113.58 532.99,113.81 533.49,114.03 533.99,114.25 534.49,114.47 534.99,114.68 535.49,115.95 535.99,116.13 536.5,116.29 537,116.45 537.5,116.6 538,116.74 538.5,116.88 539,117.01 539.5,117.14 540,117.26 540.5,118.03 541,118.11" fill="none" stroke="#4648f2" stroke-width="1.6" stroke-linejoin="round"/>
<polyline points="443.4,9.8 443.9,9.85 444.4,9.89 444.9,9.93 445.4,9.97 445.9,10.01 446.4,10.06 446.9,10.12 447.4,10.19 447.9,10.28 448.41,10.39 448.91,10.51 449.41,10.65 449.91,10.8 450.41,10.97 450.91,11.15 451.41,11.35 451.91,11.56 452.41,11.78 452.91,12.01 453.41,12.25 453.91,12.49 454.41,12.74 454.91,12.99 455.41,13.25 455.91,13.51 456.41,13.78 456.91,14.06 457.41,14.35 457.91,14.64 458.42,14.95 458.92,15.26 459.42,15.58 459.92,15.92 460.42,16.26 460.92,16.62 461.42,16.99 461.92,17.36 462.42,17.74 462.92,18.13 463.42,18.53 463.92,18.94 464.42,19.34 464.92,19.73 465.42,20.12 465.92,20.5 466.42,20.9 466.92,21.32 467.42,21.76 467.93,22.23 468.43,22.74 468.93,23.29 469.43,23.91 469.93,24.57 470.43,25.25 470.93,25.97 471.43,26.7 471.93,27.46 472.43,28.24 472.93,29.02 473.43,29.83 473.93,30.64 474.43,31.46 474.93,32.28 475.43,33.11 475.93,33.93 476.43,34.75 476.93,35.57 477.43,36.38 477.94,37.18 478.44,37.98 478.94,38.79 479.44,39.6 479.94,40.42 480.44,41.24 480.94,42.06 481.44,42.88 481.94,43.71 482.44,44.53 482.94,45.35 483.44,46.17 483.94,46.98 484.44,47.79 484.94,48.59 485.44,49.38 485.94,50.15 486.44,50.93 486.94,51.7 487.45,52.46 487.95,53.24 488.45,54.01 488.95,54.8 489.45,55.6 489.95,56.41 490.45,57.25 490.95,58.1 491.45,58.96 491.95,59.84 492.45,60.72 492.95,61.61 493.45,62.49 493.95,63.38 494.45,64.25 494.95,65.12 495.45,65.98 495.95,66.82 496.45,67.63 496.95,68.43 497.46,69.2 497.96,69.95 498.46,70.69 498.96,71.41 499.46,72.12 499.96,72.82 500.46,73.51 500.96,74.2 501.46,74.89 501.96,75.57 502.46,76.26 502.96,76.96 503.46,77.66 503.96,78.37 504.46,79.1 504.96,79.84 505.46,80.6 505.96,81.38 506.46,82.18 506.97,82.99 507.47,83.81 507.97,84.64 508.47,85.48 508.97,86.32 509.47,87.15 509.97,87.99 510.47,88.82 510.97,89.64 511.47,90.45 511.97,91.26 512.47,92.07 512.97,92.89 513.47,93.71 513.97,94.52 514.47,95.34 514.97,96.14 515.47,96.94 515.97,97.72 516.47,98.48 516.98,99.22 517.48,99.95 517.98,100.64 518.48,101.32 518.98,101.99 519.48,102.64 519.98,103.27 520.48,103.89 520.98,104.49 521.48,105.08 521.98,105.65 522.48,106.21 522.98,106.75 523.48,107.27 523.98,107.78 524.48,108.27 524.98,108.74 525.48,109.19 525.98,109.62 526.49,110.03 526.99,110.43 527.49,110.83 527.99,111.21 528.49,111.58 528.99,111.96 529.49,112.33 529.99,112.69 530.49,113.07 530.99,113.43 531.49,113.79 531.99,114.14 532.49,114.48 532.99,114.8 533.49,115.12 533.99,115.42 534.49,115.72 534.99,116 535.49,116.26 535.99,116.5 536.5,116.73 537,116.94 537.5,117.15 538,117.34 538.5,117.53 539,117.72 539.5,117.9 540,118.05 540.5,118.17 541,118.3" fill="none" stroke="#f2862c" stroke-width="1.3" stroke-linejoin="round"/>
<rect x="443.4" y="9.8" width="97.3" height="109.2" fill="none" stroke="#828282" stroke-width="1.4"/>
<path d="M443.4,64.3H439.2V67.4M435,67.4H443.4" fill="none" stroke="#111" stroke-width="1.2"/>
<path d="M436.8,67.8L441.2,67.8L439,71.1Z" fill="#333"/>
<text x="494.8" y="53.2" fill="#1c7ad0" stroke="#1c7ad0" stroke-width="0.28" font-family="Liberation Serif, serif" font-style="italic" font-size="10.9">i</text>
<text x="497.6" y="54.8" fill="#1c7ad0" stroke="#1c7ad0" stroke-width="0.28" font-family="Liberation Serif, serif" font-size="7.5">α</text>
<text x="539.2" y="53.2" fill="#1c7ad0" stroke="#1c7ad0" stroke-width="0.28" font-family="Liberation Serif, sans-serif" font-size="10.6" text-anchor="end">(5A/div)</text>
<line x1="517.4" y1="55.5" x2="501.7" y2="74.8" stroke="#1c7ad0" stroke-width="0.9"/>
<text x="448.1" y="88.8" fill="#f27a1e" stroke="#f27a1e" stroke-width="0.28" font-family="Liberation Serif, serif" font-style="italic" font-size="10.9">i</text>
<text x="450.9" y="90.4" fill="#f27a1e" stroke="#f27a1e" stroke-width="0.28" font-family="Liberation Serif, serif" font-size="6.9">αref</text>
<text x="498.4" y="88.8" fill="#f27a1e" stroke="#f27a1e" stroke-width="0.28" font-family="Liberation Serif, sans-serif" font-size="10.6" text-anchor="end">(5A/div)</text>
<line x1="470.3" y1="76.9" x2="488" y2="56" stroke="#f2862c" stroke-width="0.9"/>
<text x="453.5" y="115.1" fill="#111" stroke="#111" stroke-width="0.45" font-family="Liberation Serif, serif" font-size="10.6">5ms/div</text>
<text x="268.2" y="140.7" fill="#111" stroke="#111" stroke-width="0.3" font-family="Liberation Sans, serif" font-size="16.3">(a)</text>
<line x1="29.3" y1="155.1" x2="29.3" y2="259.6" stroke="#e0e0e0" stroke-width="1"/>
<line x1="73.6" y1="155.1" x2="73.6" y2="259.6" stroke="#e0e0e0" stroke-width="1"/>
<line x1="19.6" y1="157.8" x2="112.2" y2="157.8" stroke="#e0e0e0" stroke-width="1"/>
<line x1="19.6" y1="183.3" x2="112.2" y2="183.3" stroke="#e0e0e0" stroke-width="1"/>
<line x1="19.6" y1="208.7" x2="112.2" y2="208.7" stroke="#e0e0e0" stroke-width="1"/>
<line x1="19.6" y1="234.3" x2="112.2" y2="234.3" stroke="#e0e0e0" stroke-width="1"/>
<polyline points="19.8,259 20.3,258.99 20.8,258.99 21.3,258.98 21.8,258.98 22.31,258.98 22.81,258.96 23.31,258.95 23.81,258.91 24.31,258.87 24.81,258.83 25.31,258.78 25.81,258.71 26.31,258.61 26.82,258.46 27.32,258.28 27.82,258.06 28.32,257.81 28.82,257.54 29.32,257.25 29.82,256.94 30.32,256.62 30.82,256.29 31.32,255.94 31.83,255.59 32.33,255.21 32.83,254.82 33.33,254.4 33.83,253.96 34.33,253.49 34.83,253.02 35.33,252.55 35.83,252.08 36.34,251.61 36.84,251.13 37.34,250.65 37.84,250.16 38.34,249.66 38.84,249.15 39.34,248.64 39.84,248.11 40.34,247.57 40.85,247.02 41.35,246.45 41.85,245.86 42.35,245.26 42.85,244.64 43.35,244 43.85,243.34 44.35,242.67 44.85,241.99 45.36,241.3 45.86,240.6 46.36,239.9 46.86,239.19 47.36,238.47 47.86,237.76 48.36,237.05 48.86,236.35 49.36,235.64 49.86,234.95 50.37,234.26 50.87,233.59 51.37,232.92 51.87,232.26 52.37,231.59 52.87,230.93 53.37,230.27 53.87,229.6 54.37,228.92 54.88,228.24 55.38,227.54 55.88,226.82 56.38,226.09 56.88,225.34 57.38,224.57 57.88,223.77 58.38,222.94 58.88,222.1 59.39,221.22 59.89,220.33 60.39,219.42 60.89,218.49 61.39,217.53 61.89,216.57 62.39,215.58 62.89,214.58 63.39,213.57 63.9,212.54 64.4,211.5 64.9,210.43 65.4,209.34 65.9,208.21 66.4,207.07 66.9,205.91 67.4,204.73 67.9,203.56 68.4,202.38 68.91,201.2 69.41,200.03 69.91,198.88 70.41,197.74 70.91,196.62 71.41,195.54 71.91,194.48 72.41,193.46 72.91,192.49 73.42,191.54 73.92,190.61 74.42,189.7 74.92,188.82 75.42,187.96 75.92,187.11 76.42,186.28 76.92,185.47 77.42,184.67 77.93,183.88 78.43,183.11 78.93,182.35 79.43,181.6 79.93,180.86 80.43,180.13 80.93,179.4 81.43,178.68 81.93,177.97 82.44,177.26 82.94,176.57 83.44,175.89 83.94,175.22 84.44,174.56 84.94,173.91 85.44,173.27 85.94,172.65 86.44,172.05 86.94,171.46 87.45,170.88 87.95,170.32 88.45,169.78 88.95,169.26 89.45,168.75 89.95,168.26 90.45,167.78 90.95,167.32 91.45,166.87 91.96,166.43 92.46,166 92.96,165.58 93.46,165.18 93.96,164.78 94.46,164.38 94.96,164 95.46,163.62 95.96,163.25 96.47,162.89 96.97,162.52 97.47,162.17 97.97,161.81 98.47,161.46 98.97,161.11 99.47,160.77 99.97,160.42 100.47,160.08 100.98,159.76 101.48,159.45 101.98,159.16 102.48,158.89 102.98,158.63 103.48,158.38 103.98,158.15 104.48,157.92 104.98,157.71 105.48,157.5 105.99,157.31 106.49,157.12 106.99,156.95 107.49,156.8 107.99,156.66 108.49,156.53 108.99,156.41 109.49,156.29 109.99,156.18 110.5,156.07 111,155.96 111.5,155.85 112,155.73 112.5,155.6" fill="none" stroke="#f2862c" stroke-width="1.4" stroke-linejoin="round"/>
<polyline points="19.8,259 20.3,259 20.8,259 21.3,258.99 21.8,258.99 22.31,258.99 22.81,258.95 23.31,258.93 23.81,258.92 24.31,258.9 24.81,258.88 25.31,258.86 25.81,258.83 26.31,258.81 26.82,258.78 27.32,258.08 27.82,257.96 28.32,257.83 28.82,257.7 29.32,257.56 29.82,257.41 30.32,257.26 30.82,257.1 31.32,256.94 31.83,255.26 32.33,255.06 32.83,254.86 33.33,254.65 33.83,254.44 34.33,254.21 34.83,253.98 35.33,253.75 35.83,253.5 36.34,251.19 36.84,250.95 37.34,250.7 37.84,250.45 38.34,250.2 38.84,249.95 39.34,249.69 39.84,249.43 40.34,249.17 40.85,246.53 41.35,246.23 41.85,245.93 42.35,245.63 42.85,245.32 43.35,245 43.85,244.68 44.35,244.36 44.85,244.03 45.36,240.7 45.86,240.35 46.36,239.98 46.86,239.62 47.36,239.26 47.86,238.9 48.36,238.53 48.86,238.17 49.36,237.81 49.86,234.37 50.37,234.02 50.87,233.68 51.37,233.34 51.87,233 52.37,232.66 52.87,232.32 53.37,231.98 53.87,231.64 54.37,228.35 54.88,228 55.38,227.64 55.88,227.28 56.38,226.91 56.88,226.54 57.38,226.17 57.88,225.79 58.38,225.4 58.88,221.38 59.39,220.93 59.89,220.47 60.39,220.01 60.89,219.54 61.39,219.07 61.89,218.59 62.39,218.11 62.89,217.62 63.39,212.73 63.9,212.2 64.4,211.67 64.9,211.13 65.4,210.59 65.9,210.03 66.4,209.47 66.9,208.9 67.4,208.32 67.9,202.61 68.4,202.01 68.91,201.4 69.41,200.8 69.91,200.21 70.41,199.61 70.91,199.02 71.41,198.44 71.91,197.86 72.41,192.68 72.91,192.19 73.42,191.71 73.92,191.23 74.42,190.76 74.92,190.29 75.42,189.83 75.92,189.37 76.42,188.92 76.92,184.84 77.42,184.43 77.93,184.03 78.43,183.64 78.93,183.24 79.43,182.85 79.93,182.46 80.43,182.08 80.93,181.69 81.43,178.13 81.93,177.76 82.44,177.41 82.94,177.05 83.44,176.7 83.94,176.34 84.44,176 84.94,175.65 85.44,175.31 85.94,172.19 86.44,171.88 86.94,171.58 87.45,171.28 87.95,170.99 88.45,170.7 88.95,170.42 89.45,170.13 89.95,169.86 90.45,167.43 90.95,167.2 91.45,166.97 91.96,166.74 92.46,166.52 92.96,166.3 93.46,166.08 93.96,165.86 94.46,165.65 94.96,163.72 95.46,163.53 95.96,163.34 96.47,163.15 96.97,162.96 97.47,162.78 97.97,162.59 98.47,162.41 98.97,162.23 99.47,160.51 99.97,160.33 100.47,160.16 100.98,159.99 101.48,159.83 101.98,159.67 102.48,159.51 102.98,159.36 103.48,159.21 103.98,157.98 104.48,157.87 104.98,157.76 105.48,157.65 105.99,157.55 106.49,157.45 106.99,157.34 107.49,157.25 107.99,157.15 108.49,156.44 108.99,156.38 109.49,156.32 109.99,156.27 110.5,156.21 111,156.15 111.5,156.1 112,156.04 112.5,155.6" fill="none" stroke="#4648f2" stroke-width="1.2" stroke-linejoin="round" stroke-opacity="0.9"/>
<rect x="19.6" y="155.1" width="92.6" height="104.5" fill="none" stroke="#828282" stroke-width="1.4"/>
<path d="M19.6,208.6H15.4V211.7M11.2,211.7H19.6" fill="none" stroke="#111" stroke-width="1.2"/>
<path d="M13,212.1L17.4,212.1L15.2,215.4Z" fill="#333"/>
<text x="23.2" y="175.2" fill="#f27a1e" stroke="#f27a1e" stroke-width="0.28" font-family="Liberation Serif, serif" font-style="italic" font-size="10.9">i</text>
<text x="26" y="176.8" fill="#f27a1e" stroke="#f27a1e" stroke-width="0.28" font-family="Liberation Serif, serif" font-size="6.9">αref</text>
<text x="73.7" y="175.2" fill="#f27a1e" stroke="#f27a1e" stroke-width="0.28" font-family="Liberation Serif, sans-serif" font-size="10.6" text-anchor="end">(5A/div)</text>
<line x1="47.9" y1="185.3" x2="71.8" y2="194.9" stroke="#f2862c" stroke-width="0.9"/>
<text x="65.6" y="229.6" fill="#1c7ad0" stroke="#1c7ad0" stroke-width="0.28" font-family="Liberation Serif, serif" font-style="italic" font-size="10.9">i</text>
<text x="68.4" y="231.2" fill="#1c7ad0" stroke="#1c7ad0" stroke-width="0.28" font-family="Liberation Serif, serif" font-size="7.5">α</text>
<text x="109.5" y="229.6" fill="#1c7ad0" stroke="#1c7ad0" stroke-width="0.28" font-family="Liberation Serif, sans-serif" font-size="10.6" text-anchor="end">(5A/div)</text>
<line x1="66" y1="210" x2="88.2" y2="219.6" stroke="#1c7ad0" stroke-width="0.9"/>
<text x="73" y="254.9" fill="#111" stroke="#111" stroke-width="0.45" font-family="Liberation Serif, serif" font-size="10.6">5ms/div</text>
<line x1="158.63" y1="147.2" x2="158.63" y2="259.8" stroke="#e0e0e0" stroke-width="1"/>
<line x1="187.86" y1="147.2" x2="187.86" y2="259.8" stroke="#e0e0e0" stroke-width="1"/>
<line x1="217.09" y1="147.2" x2="217.09" y2="259.8" stroke="#e0e0e0" stroke-width="1"/>
<line x1="246.32" y1="147.2" x2="246.32" y2="259.8" stroke="#e0e0e0" stroke-width="1"/>
<line x1="275.55" y1="147.2" x2="275.55" y2="259.8" stroke="#e0e0e0" stroke-width="1"/>
<line x1="304.78" y1="147.2" x2="304.78" y2="259.8" stroke="#e0e0e0" stroke-width="1"/>
<line x1="334.01" y1="147.2" x2="334.01" y2="259.8" stroke="#e0e0e0" stroke-width="1"/>
<line x1="363.24" y1="147.2" x2="363.24" y2="259.8" stroke="#e0e0e0" stroke-width="1"/>
<line x1="392.47" y1="147.2" x2="392.47" y2="259.8" stroke="#e0e0e0" stroke-width="1"/>
<line x1="129.4" y1="161.27" x2="421.7" y2="161.27" stroke="#e0e0e0" stroke-width="1"/>
<line x1="129.4" y1="175.35" x2="421.7" y2="175.35" stroke="#e0e0e0" stroke-width="1"/>
<line x1="129.4" y1="189.43" x2="421.7" y2="189.43" stroke="#e0e0e0" stroke-width="1"/>
<line x1="129.4" y1="203.5" x2="421.7" y2="203.5" stroke="#e0e0e0" stroke-width="1"/>
<line x1="129.4" y1="217.57" x2="421.7" y2="217.57" stroke="#e0e0e0" stroke-width="1"/>
<line x1="129.4" y1="231.65" x2="421.7" y2="231.65" stroke="#e0e0e0" stroke-width="1"/>
<line x1="129.4" y1="245.73" x2="421.7" y2="245.73" stroke="#e0e0e0" stroke-width="1"/>
<polyline points="129.4,258.2 129.9,257.76 130.4,257.25 130.9,256.67 131.4,256.01 131.9,255.28 132.4,254.48 132.9,253.62 133.4,252.69 133.9,251.7 134.4,250.66 134.9,249.56 135.4,248.4 135.9,247.2 136.4,245.95 136.9,244.66 137.4,243.33 137.9,241.97 138.4,240.57 138.9,239.15 139.4,237.71 139.9,236.25 140.4,234.78 140.9,233.29 141.4,231.8 141.9,230.31 142.4,228.82 142.9,227.34 143.4,225.87 143.9,224.41 144.4,222.97 144.9,221.56 145.4,220.18 145.9,218.83 146.4,217.51 146.9,216.23 147.4,215 147.9,213.81 148.4,212.67 148.9,211.59 149.4,210.56 149.9,209.59 150.4,208.69 150.9,207.85 151.4,207.07 151.9,206.37 152.4,205.73 152.9,205.17 153.4,204.69 153.9,204.28 154.4,203.94 154.9,203.69 155.4,203.52 155.9,203.42 156.4,203.4 156.9,203.47 157.4,203.61 157.9,203.83 158.4,204.13 158.9,204.51 159.4,204.97 159.9,205.5 160.4,206.1 160.9,206.78 161.4,207.53 161.9,208.34 162.4,209.22 162.9,210.17 163.4,211.17 163.9,212.23 164.4,213.35 164.9,214.52 165.4,215.73 165.9,216.99 166.4,218.3 166.9,219.63 167.4,221.01 167.9,222.41 168.4,223.83 168.9,225.28 169.4,226.75 169.9,228.22 170.4,229.71 170.9,231.2 171.4,232.69 171.9,234.18 172.4,235.66 172.9,237.13 173.4,238.58 173.9,240.01 174.4,241.41 174.9,242.79 175.4,244.13 175.9,245.44 176.4,246.7 176.9,247.93 177.4,249.1 177.9,250.22 178.4,251.29 178.9,252.3 179.4,253.26 179.9,254.15 180.4,254.97 180.9,255.73 181.4,256.41 181.9,257.03 182.4,257.57 182.9,258.03 183.4,258.42 183.9,258.73 184.4,258.96 184.9,259.12 185.4,259.19 185.9,259.19 186.4,259.1 186.9,258.94 187.4,258.69 187.9,258.37 188.4,257.97 188.9,257.49 189.4,256.94 189.9,256.32 190.4,255.62 190.9,254.86 191.4,254.02 191.9,253.13 192.4,252.17 192.9,251.15 193.4,250.07 193.9,248.94 194.4,247.76 194.9,246.53 195.4,245.26 195.9,243.95 196.4,242.6 196.9,241.22 197.4,239.81 197.9,238.38 198.4,236.92 198.9,235.46 199.4,233.97 199.9,232.49 200.4,230.99 200.9,229.5 201.4,228.02 201.9,226.54 202.4,225.08 202.9,223.63 203.4,222.21 203.9,220.81 204.4,219.44 204.9,218.11 205.4,216.81 205.9,215.56 206.4,214.35 206.9,213.19 207.4,212.08 207.9,211.03 208.4,210.03 208.9,209.1 209.4,208.23 209.9,207.42 210.4,206.68 210.9,206.02 211.4,205.42 211.9,204.9 212.4,204.46 212.9,204.09 213.4,203.8 213.9,203.59 214.4,203.45 214.9,203.4 215.4,203.43 215.9,203.54 216.4,203.72 216.9,203.99 217.4,204.33 217.9,204.75 218.4,205.25 218.9,205.82 219.4,206.46 219.9,207.18 220.4,207.96 220.9,208.81 221.4,209.73 221.9,210.7 222.4,211.74 222.9,212.83 223.4,213.97 223.9,215.17 224.4,216.41 224.9,217.69 225.4,219.01 225.9,220.37 226.4,221.76 226.9,223.17 227.4,224.61 227.9,226.07 228.4,227.54 228.9,229.03 229.4,230.52 229.9,232.01 230.4,233.5 230.9,234.98 231.4,236.46 231.9,237.92 232.4,239.35 232.9,240.77 233.4,242.16 233.9,243.52 234.4,244.84 234.9,246.13 235.4,247.37 235.9,248.57 236.4,249.71 236.9,250.81 237.4,251.85 237.9,252.83 238.4,253.74 238.9,254.6 239.4,255.39 239.9,256.1 240.4,256.75 240.9,257.33 241.4,257.83 241.9,258.25 242.4,258.6 242.9,258.87 243.4,259.06 243.9,259.17 244.4,259.2 244.9,259.15 245.4,259.02 245.9,258.81 246.4,258.53 246.9,258.16 247.4,257.72 247.9,257.21 248.4,256.62 248.9,255.95 249.4,255.22 249.9,254.42 250.4,253.55 250.9,252.62 251.4,251.62 251.9,250.57 252.4,249.47 252.9,248.31 253.4,247.1 253.9,245.85 254.4,244.56 254.9,243.22 255.4,241.86 255.9,240.46 256.4,239.04 256.9,237.6 257.4,236.13 257.9,234.66 258.4,233.17 258.9,231.68 259.4,230.19 259.9,228.7 260.4,227.22 260.9,225.75 261.4,224.29 261.9,222.86 262.4,221.45 262.9,220.07 263.4,218.72 263.9,217.41 264.4,216.13 264.9,214.9 265.4,213.72 265.9,212.59 266.4,211.51 266.9,210.48 267.4,209.52 267.9,208.62 268.4,207.78 268.9,207.01 269.4,206.31 269.9,205.69 270.4,205.13 270.9,204.65 271.4,204.25 271.9,203.92 272.4,203.67 272.9,203.5 273.4,203.42 273.9,203.41 274.4,203.48 274.9,203.63 275.4,203.85 275.9,204.16 276.4,204.55 276.9,205.01 277.4,205.55 277.9,206.16 278.4,206.84 278.9,207.59 279.4,208.41 279.9,209.3 280.4,210.25 280.9,211.26 281.4,212.32 281.9,213.44 282.4,214.61 282.9,215.83 283.4,217.1 283.9,218.4 284.4,219.74 284.9,221.12 285.4,222.52 285.9,223.95 286.4,225.4 286.9,226.86 287.4,228.34 287.9,229.83 288.4,231.32 288.9,232.81 289.4,234.3 289.9,235.78 290.4,237.25 290.9,238.7 291.4,240.12 291.9,241.53 292.4,242.9 292.9,244.24 293.4,245.54 293.9,246.8 294.4,248.02 294.9,249.19 295.4,250.31 295.9,251.38 296.4,252.38 296.9,253.33 297.4,254.21 297.9,255.03 298.4,255.78 298.9,256.46 299.4,257.07 299.9,257.61 300.4,258.07 300.9,258.45 301.4,258.75 301.9,258.98 302.4,259.13 302.9,259.2 303.4,259.18 303.9,259.09 304.4,258.92 304.9,258.67 305.4,258.34 305.9,257.94 306.4,257.45 306.9,256.9 307.4,256.27 307.9,255.56 308.4,254.79 308.9,253.96 309.4,253.05 309.9,252.09 310.4,251.06 310.9,249.98 311.4,248.85 311.9,247.66 312.4,246.43 312.9,245.16 313.4,243.84 313.9,242.49 314.4,241.11 314.9,239.7 315.4,238.26 315.9,236.81 316.4,235.34 316.9,233.86 317.4,232.37 317.9,230.87 318.4,229.38 318.9,227.9 319.4,226.42 319.9,224.96 320.4,223.52 320.9,222.1 321.4,220.7 321.9,219.34 322.4,218.01 322.9,216.71 323.4,215.46 323.9,214.26 324.4,213.1 324.9,212 325.4,210.95 325.9,209.96 326.4,209.03 326.9,208.16 327.4,207.36 327.9,206.63 328.4,205.97 328.9,205.38 329.4,204.86 329.9,204.42 330.4,204.06 330.9,203.78 331.4,203.57 331.9,203.45 332.4,203.4 332.9,203.43 333.4,203.55 333.9,203.74 334.4,204.01 334.9,204.36 335.4,204.79 335.9,205.29 336.4,205.87 336.9,206.52 337.4,207.24 337.9,208.03 338.4,208.88 338.9,209.8 339.4,210.78 339.9,211.82 340.4,212.92 340.9,214.07 341.4,215.27 341.9,216.51 342.4,217.8 342.9,219.12 343.4,220.48 343.9,221.87 344.4,223.29 344.9,224.73 345.4,226.19 345.9,227.66 346.4,229.15 346.9,230.64 347.4,232.13 347.9,233.62 348.4,235.1 348.9,236.57 349.4,238.03 349.9,239.47 350.4,240.88 350.9,242.27 351.4,243.63 351.9,244.95 352.4,246.23 352.9,247.47 353.4,248.66 353.9,249.8 354.4,250.89 354.9,251.93 355.4,252.9 355.9,253.82 356.4,254.66 356.9,255.45 357.4,256.16 357.9,256.8 358.4,257.37 358.9,257.86 359.4,258.28 359.9,258.62 360.4,258.89 360.9,259.07 361.4,259.17 361.9,259.2 362.4,259.14 362.9,259.01 363.4,258.79 363.9,258.5 364.4,258.13 364.9,257.68 365.4,257.16 365.9,256.57 366.4,255.9 366.9,255.16 367.4,254.35 367.9,253.48 368.4,252.54 368.9,251.54 369.4,250.49 369.9,249.38 370.4,248.21 370.9,247 371.4,245.75 371.9,244.45 372.4,243.12 372.9,241.75 373.4,240.35 373.9,238.93 374.4,237.48 374.9,236.02 375.4,234.54 375.9,233.05 376.4,231.56 376.9,230.07 377.4,228.58 377.9,227.1 378.4,225.63 378.9,224.18 379.4,222.75 379.9,221.34 380.4,219.96 380.9,218.61 381.4,217.3 381.9,216.03 382.4,214.81 382.9,213.63 383.4,212.5 383.9,211.42 384.4,210.4 384.9,209.45 385.4,208.55 385.9,207.72 386.4,206.95 386.9,206.26 387.4,205.64 387.9,205.09 388.4,204.62 388.9,204.22 389.4,203.9 389.9,203.66 390.4,203.49 390.9,203.41 391.4,203.41 391.9,203.49 392.4,203.64 392.9,203.88 393.4,204.19 393.9,204.58 394.4,205.05 394.9,205.59 395.4,206.21 395.9,206.9 396.4,207.65 396.9,208.48 397.4,209.37 397.9,210.32 398.4,211.34 398.9,212.41 399.4,213.53 399.9,214.71 400.4,215.93 400.9,217.2 401.4,218.51 401.9,219.85 402.4,221.23 402.9,222.63 403.4,224.06 403.9,225.51 404.4,226.98 404.9,228.46 405.4,229.95 405.9,231.44 406.4,232.93 406.9,234.42 407.4,235.9 407.9,237.36 408.4,238.81 408.9,240.24 409.4,241.64 409.9,243.01 410.4,244.34 410.9,245.64 411.4,246.9 411.9,248.12 412.4,249.28 412.9,250.4 413.4,251.46 413.9,252.46 414.4,253.4 414.9,254.28 415.4,255.09 415.9,255.84 416.4,256.51 416.9,257.12 417.4,257.65 417.9,258.1 418.4,258.48 418.9,258.77 419.4,258.99 419.9,259.14 420.4,259.2 420.9,259.18 421.4,259.08" fill="none" stroke="#6656f0" stroke-width="1.1" stroke-linejoin="round" stroke-opacity="0.8"/>
<polyline points="129.4,257.57 129.9,257.03 130.4,256.41 130.9,255.73 131.4,254.97 131.9,254.15 132.4,253.26 132.9,252.3 133.4,251.29 133.9,250.22 134.4,249.1 134.9,247.93 135.4,246.7 135.9,245.44 136.4,244.13 136.9,242.79 137.4,241.41 137.9,240.01 138.4,238.58 138.9,237.13 139.4,235.66 139.9,234.18 140.4,232.69 140.9,231.2 141.4,229.71 141.9,228.22 142.4,226.75 142.9,225.28 143.4,223.83 143.9,222.41 144.4,221.01 144.9,219.63 145.4,218.3 145.9,216.99 146.4,215.73 146.9,214.52 147.4,213.35 147.9,212.23 148.4,211.17 148.9,210.17 149.4,209.22 149.9,208.34 150.4,207.53 150.9,206.78 151.4,206.1 151.9,205.5 152.4,204.97 152.9,204.51 153.4,204.13 153.9,203.83 154.4,203.61 154.9,203.47 155.4,203.4 155.9,203.42 156.4,203.52 156.9,203.69 157.4,203.94 157.9,204.28 158.4,204.69 158.9,205.17 159.4,205.73 159.9,206.37 160.4,207.07 160.9,207.85 161.4,208.69 161.9,209.59 162.4,210.56 162.9,211.59 163.4,212.67 163.9,213.81 164.4,215 164.9,216.23 165.4,217.51 165.9,218.83 166.4,220.18 166.9,221.56 167.4,222.97 167.9,224.41 168.4,225.87 168.9,227.34 169.4,228.82 169.9,230.31 170.4,231.8 170.9,233.29 171.4,234.78 171.9,236.25 172.4,237.71 172.9,239.15 173.4,240.57 173.9,241.97 174.4,243.33 174.9,244.66 175.4,245.95 175.9,247.2 176.4,248.4 176.9,249.56 177.4,250.66 177.9,251.7 178.4,252.69 178.9,253.62 179.4,254.48 179.9,255.28 180.4,256.01 180.9,256.67 181.4,257.25 181.9,257.76 182.4,258.2 182.9,258.55 183.4,258.83 183.9,259.04 184.4,259.16 184.9,259.2 185.4,259.16 185.9,259.05 186.4,258.85 186.9,258.57 187.4,258.22 187.9,257.79 188.4,257.28 188.9,256.7 189.4,256.05 189.9,255.33 190.4,254.53 190.9,253.67 191.4,252.75 191.9,251.77 192.4,250.72 192.9,249.62 193.4,248.47 193.9,247.27 194.4,246.03 194.9,244.74 195.4,243.41 195.9,242.05 196.4,240.66 196.9,239.24 197.4,237.8 197.9,236.34 198.4,234.86 198.9,233.38 199.4,231.89 199.9,230.4 200.4,228.91 200.9,227.42 201.4,225.95 201.9,224.5 202.4,223.06 202.9,221.65 203.4,220.26 203.9,218.91 204.4,217.59 204.9,216.31 205.4,215.07 205.9,213.88 206.4,212.74 206.9,211.65 207.4,210.62 207.9,209.65 208.4,208.74 208.9,207.9 209.4,207.12 209.9,206.41 210.4,205.77 210.9,205.2 211.4,204.71 211.9,204.3 212.4,203.96 212.9,203.7 213.4,203.52 213.9,203.42 214.4,203.4 214.9,203.46 215.4,203.6 215.9,203.82 216.4,204.11 216.9,204.49 217.4,204.94 217.9,205.47 218.4,206.07 218.9,206.74 219.4,207.48 219.9,208.29 220.4,209.17 220.9,210.11 221.4,211.11 221.9,212.17 222.4,213.28 222.9,214.45 223.4,215.66 223.9,216.92 224.4,218.22 224.9,219.55 225.4,220.92 225.9,222.32 226.4,223.75 226.9,225.19 227.4,226.66 227.9,228.14 228.4,229.62 228.9,231.11 229.4,232.61 229.9,234.09 230.4,235.57 230.9,237.04 231.4,238.49 231.9,239.92 232.4,241.33 232.9,242.71 233.4,244.05 233.9,245.36 234.4,246.63 234.9,247.85 235.4,249.03 235.9,250.16 236.4,251.23 236.9,252.25 237.4,253.2 237.9,254.09 238.4,254.92 238.9,255.68 239.4,256.37 239.9,256.99 240.4,257.54 240.9,258.01 241.4,258.4 241.9,258.72 242.4,258.95 242.9,259.11 243.4,259.19 243.9,259.19 244.4,259.11 244.9,258.95 245.4,258.71 245.9,258.39 246.4,258 246.9,257.53 247.4,256.98 247.9,256.36 248.4,255.67 248.9,254.91 249.4,254.08 249.9,253.18 250.4,252.23 250.9,251.21 251.4,250.14 251.9,249.01 252.4,247.83 252.9,246.61 253.4,245.34 253.9,244.03 254.4,242.68 254.9,241.3 255.4,239.9 255.9,238.46 256.4,237.01 256.9,235.54 257.4,234.06 257.9,232.58 258.4,231.08 258.9,229.59 259.4,228.11 259.9,226.63 260.4,225.16 260.9,223.72 261.4,222.29 261.9,220.89 262.4,219.53 262.9,218.19 263.4,216.89 263.9,215.63 264.4,214.42 264.9,213.26 265.4,212.15 265.9,211.09 266.4,210.09 266.9,209.15 267.4,208.28 267.9,207.47 268.4,206.73 268.9,206.05 269.4,205.46 269.9,204.93 270.4,204.48 270.9,204.11 271.4,203.81 271.9,203.6 272.4,203.46 272.9,203.4 273.4,203.42 273.9,203.53 274.4,203.71 274.9,203.97 275.4,204.31 275.9,204.72 276.4,205.21 276.9,205.78 277.4,206.42 277.9,207.13 278.4,207.91 278.9,208.76 279.4,209.67 279.9,210.64 280.4,211.67 280.9,212.76 281.4,213.9 281.9,215.1 282.4,216.33 282.9,217.61 283.4,218.93 283.9,220.29 284.4,221.67 284.9,223.09 285.4,224.53 285.9,225.98 286.4,227.45 286.9,228.94 287.4,230.43 287.9,231.92 288.4,233.41 288.9,234.89 289.4,236.37 289.9,237.83 290.4,239.27 290.9,240.69 291.4,242.08 291.9,243.44 292.4,244.76 292.9,246.05 293.4,247.3 293.9,248.5 294.4,249.65 294.9,250.74 295.4,251.79 295.9,252.77 296.4,253.69 296.9,254.55 297.4,255.34 297.9,256.06 298.4,256.71 298.9,257.29 299.4,257.8 299.9,258.23 300.4,258.58 300.9,258.85 301.4,259.05 301.9,259.16 302.4,259.2 302.9,259.16 303.4,259.03 303.9,258.83 304.4,258.55 304.9,258.19 305.4,257.75 305.9,257.24 306.4,256.65 306.9,255.99 307.4,255.26 307.9,254.47 308.4,253.6 308.9,252.67 309.4,251.68 309.9,250.64 310.4,249.53 310.9,248.38 311.4,247.17 311.9,245.93 312.4,244.63 312.9,243.3 313.4,241.94 313.9,240.55 314.4,239.13 314.9,237.68 315.4,236.22 315.9,234.75 316.4,233.26 316.9,231.77 317.4,230.28 317.9,228.79 318.4,227.31 318.9,225.84 319.4,224.38 319.9,222.95 320.4,221.53 320.9,220.15 321.4,218.8 321.9,217.48 322.4,216.21 322.9,214.97 323.4,213.79 323.9,212.65 324.4,211.57 324.9,210.54 325.4,209.58 325.9,208.67 326.4,207.83 326.9,207.06 327.4,206.35 327.9,205.72 328.4,205.16 328.9,204.68 329.4,204.27 329.9,203.94 330.4,203.69 330.9,203.51 331.4,203.42 331.9,203.4 332.4,203.47 332.9,203.61 333.4,203.84 333.9,204.14 334.4,204.52 334.9,204.98 335.4,205.51 335.9,206.12 336.4,206.8 336.9,207.54 337.4,208.36 337.9,209.24 338.4,210.19 338.9,211.19 339.4,212.26 339.9,213.37 340.4,214.54 340.9,215.76 341.4,217.02 341.9,218.32 342.4,219.66 342.9,221.03 343.4,222.43 343.9,223.86 344.4,225.31 344.9,226.78 345.4,228.25 345.9,229.74 346.4,231.23 346.9,232.72 347.4,234.21 347.9,235.69 348.4,237.16 348.9,238.61 349.4,240.04 349.9,241.44 350.4,242.82 350.9,244.16 351.4,245.46 351.9,246.73 352.4,247.95 352.9,249.12 353.4,250.25 353.9,251.31 354.4,252.32 354.9,253.27 355.4,254.16 355.9,254.98 356.4,255.74 356.9,256.42 357.4,257.04 357.9,257.58 358.4,258.04 358.9,258.43 359.4,258.74 359.9,258.97 360.4,259.12 360.9,259.19 361.4,259.19 361.9,259.1 362.4,258.93 362.9,258.69 363.4,258.36 363.9,257.96 364.4,257.48 364.9,256.93 365.4,256.31 365.9,255.61 366.4,254.84 366.9,254.01 367.4,253.11 367.9,252.15 368.4,251.13 368.9,250.05 369.4,248.92 369.9,247.73 370.4,246.51 370.9,245.23 371.4,243.92 371.9,242.57 372.4,241.19 372.9,239.78 373.4,238.35 373.9,236.9 374.4,235.43 374.9,233.95 375.4,232.46 375.9,230.96 376.4,229.47 376.9,227.99 377.4,226.51 377.9,225.05 378.4,223.6 378.9,222.18 379.4,220.78 379.9,219.42 380.4,218.08 380.9,216.79 381.4,215.54 381.9,214.33 382.4,213.17 382.9,212.06 383.4,211.01 383.9,210.01 384.4,209.08 384.9,208.21 385.4,207.4 385.9,206.67 386.4,206 386.9,205.41 387.4,204.89 387.9,204.45 388.4,204.08 388.9,203.79 389.4,203.58 389.9,203.45 390.4,203.4 390.9,203.43 391.4,203.54 391.9,203.73 392.4,203.99 392.9,204.34 393.4,204.76 393.9,205.26 394.4,205.83 394.9,206.48 395.4,207.19 395.9,207.98 396.4,208.83 396.9,209.75 397.4,210.72 397.9,211.76 398.4,212.85 398.9,214 399.4,215.19 399.9,216.43 400.4,217.72 400.9,219.04 401.4,220.4 401.9,221.79 402.4,223.2 402.9,224.64 403.4,226.1 403.9,227.57 404.4,229.06 404.9,230.55 405.4,232.04 405.9,233.53 406.4,235.01 406.9,236.49 407.4,237.94 407.9,239.38 408.4,240.8 408.9,242.19 409.4,243.55 409.9,244.87 410.4,246.15 410.9,247.39 411.4,248.59 411.9,249.74 412.4,250.83 412.9,251.87 413.4,252.85 413.9,253.76 414.4,254.61 414.9,255.4 415.4,256.12 415.9,256.76 416.4,257.34 416.9,257.84 417.4,258.26 417.9,258.6 418.4,258.87 418.9,259.06 419.4,259.17 419.9,259.2 420.4,259.15 420.9,259.02 421.4,258.81" fill="none" stroke="#e77a58" stroke-width="1.05" stroke-linejoin="round" stroke-opacity="0.85"/>
<polyline points="129.4,171.47 129.82,175.41 130.24,171.24 130.66,176 131.08,170.12 131.5,172.98 131.92,165.56 132.34,173.78 132.76,171.73 133.18,175.6 133.6,166.85 134.02,179.67 134.44,165.34 134.86,173.23 135.28,170.07 135.7,173.99 136.12,165.1 136.54,173.55 136.96,170.89 137.38,175.96 137.8,168.81 138.22,178.05 138.64,168.55 139.06,176.02 139.48,170.09 139.9,174.27 140.32,167.92 140.74,178.75 141.16,167.92 141.58,174.42 142,168.83 142.42,174.85 142.84,169.29 143.26,173.23 143.68,168.17 144.1,174.82 144.52,165.18 144.94,175.5 145.36,169.12 145.78,175.99 146.2,170.18 146.62,176.27 147.04,168.47 147.46,174.16 147.88,167.6 148.3,175.84 148.72,170.12 149.14,173.16 149.56,170.95 149.98,178.11 150.4,168.85 150.82,176.02 151.24,171.43 151.66,175.41 152.08,172.47 152.5,176.8 152.92,169.56 153.34,175.53 153.76,169.95 154.18,176.2 154.6,167.31 155.02,180.29 155.44,171.28 155.86,176.97 156.28,172.45 156.7,179.38 157.12,168.89 157.54,175.9 157.96,168.9 158.38,176.84 158.8,170.22 159.22,177.29 159.64,168.87 160.06,179.35 160.48,169.83 160.9,176.56 161.32,174.78 161.74,177.47 162.16,170.48 162.58,177.89 163,174.76 163.42,178.99 163.84,175.69 164.26,179.03 164.68,172.67 165.1,179.93 165.52,169.99 165.94,181.13 166.36,175.42 166.78,181.9 167.2,173.74 167.62,179.48 168.04,176.81 168.46,179.58 168.88,175.55 169.3,183.34 169.72,176.16 170.14,181.13 170.56,175.45 170.98,179.59 171.4,174.84 171.82,178.5 172.24,175.38 172.66,181.49 173.08,174.88 173.5,180.66 173.92,174.59 174.34,179.07 174.76,175.72 175.18,181.17 175.6,172.16 176.02,179.22 176.44,176.49 176.86,178.28 177.28,173.46 177.7,184.77 178.12,174.25 178.54,179.04 178.96,174.23 179.38,181.21 179.8,175.69 180.22,178.13 180.64,175.76 181.06,178.44 181.48,172.85 181.9,178.86 182.32,170.99 182.74,178.05 183.16,169.51 183.58,180.29 184,175.65 184.42,176.75 184.84,172.9 185.26,176.4 185.68,174.9 186.1,177.81 186.52,168.64 186.94,178.94 187.36,174.59 187.78,177.15 188.2,173.71 188.62,178.56 189.04,168.58 189.46,175.52 189.88,171.36 190.3,181.48 190.72,171.69 191.14,176.58 191.56,172.48 191.98,175.93 192.4,171.2 192.82,179.95 193.24,170.8 193.66,178.32 194.08,171.27 194.5,178.31 194.92,169.46 195.34,175.31 195.76,170.02 196.18,173.91 196.6,167.48 197.02,175.43 197.44,171.74 197.86,179.87 198.28,169.28 198.7,175.72 199.12,169.29 199.54,175.1 199.96,168.51 200.38,176.57 200.8,167.02 201.22,175.34 201.64,169.28 202.06,173.69 202.48,170.13 202.9,173.91 203.32,170.12 203.74,175.95 204.16,167.04 204.58,173.96 205,169.33 205.42,178.67 205.84,166.47 206.26,180.3 206.68,170.65 207.1,178.37 207.52,171.14 207.94,176.63 208.36,170.44 208.78,175.5 209.2,171.17 209.62,176.03 210.04,172.97 210.46,176.34 210.88,170.52 211.3,177.99 211.72,167.4 212.14,176.63 212.56,169.87 212.98,175.49 213.4,170.74 213.82,175.04 214.24,170.87 214.66,176.73 215.08,171.79 215.5,177.78 215.92,171.53 216.34,176.33 216.76,171.56 217.18,176.32 217.6,169.74 218.02,182.25 218.44,173.85 218.86,177.01 219.28,174.22 219.7,178.69 220.12,172.58 220.54,178.59 220.96,171.08 221.38,178.89 221.8,174.93 222.22,182.63 222.64,173.33 223.06,178.45 223.48,174.28 223.9,179.08 224.32,174.51 224.74,179.2 225.16,174 225.58,182.88 226,174.32 226.42,179.21 226.84,175.76 227.26,177.72 227.68,174.92 228.1,181.7 228.52,175.59 228.94,180.28 229.36,175.72 229.78,177.54 230.2,173.27 230.62,179.63 231.04,175.67 231.46,181.54 231.88,173.72 232.3,178.7 232.72,175.65 233.14,177.77 233.56,174.17 233.98,176.51 234.4,171.97 234.82,178.3 235.24,168.14 235.66,178.78 236.08,169.76 236.5,178.11 236.92,173.08 237.34,175.59 237.76,173.93 238.18,178.07 238.6,173.45 239.02,175.29 239.44,172.12 239.86,176.02 240.28,171.95 240.7,176.72 241.12,171.21 241.54,174.87 241.96,171.88 242.38,174.56 242.8,171.15 243.22,173.7 243.64,169.23 244.06,175.76 244.48,169.74 244.9,175.73 245.32,170.48 245.74,174.93 246.16,169.03 246.58,173.68 247,165.29 247.42,175.07 247.84,167.52 248.26,172.89 248.68,169.66 249.1,176.96 249.52,168.37 249.94,172.6 250.36,168.27 250.78,174.4 251.2,167.1 251.62,174.98 252.04,167.71 252.46,174.84 252.88,168.62 253.3,176.34 253.72,165.87 254.14,172.8 254.56,169.91 254.98,171.48 255.4,168.96 255.82,173.67 256.24,168.58 256.66,171.45 257.08,167.43 257.5,174.65 257.92,167.72 258.34,173.64 258.76,169.55 259.18,174.53 259.6,167.74 260.02,172.13 260.44,170.11 260.86,171.77 261.28,163.78 261.7,171.87 262.12,168.22 262.54,174.45 262.96,169.74 263.38,171.78 263.8,169.34 264.22,172.34 264.64,167.68 265.06,174.43 265.48,169.84 265.9,172.94 266.32,167.65 266.74,172.28 267.16,167.65 267.58,174.69 268,170.51 268.42,175.92 268.84,165.22 269.26,174.25 269.68,170.92 270.1,173.07 270.52,166.79 270.94,173.34 271.36,165.08 271.78,176.63 272.2,170.07 272.62,175.57 273.04,170.83 273.46,174.3 273.88,169.92 274.3,174.14 274.72,172.42 275,175.02 275.5,179.3 276,175.48 276.5,177.05 277,175.73 277.5,177.48 278,174.83 278.5,179.19 279,177.11 279.5,179.04 280,176.95 280.5,180.24 281,177.08 281.5,179.37 282,177.12 282.5,179.58 283,178.73 283.5,181.82 284,175.77 284.5,180.85 285,179.16 285.5,182.62 286,177.6 286.5,181.8 287,176.71 287.5,182.25 288,176.4 288.5,181.31 289,176.49 289.5,182.61 290,178.64 290.5,181.04 291,177.64 291.5,180.47 292,178.16 292.5,180.74 293,178.23 293.5,181.02 294,176.07 294.5,180.78 295,176.76 295.5,180.57 296,177.61 296.5,179.89 297,177.38 297.5,181.42 298,177.31 298.5,178.26 299,176.81 299.5,177.58 300,176.38 300.5,178.48 301,174.73 301.5,177.86 302,175.87 302.5,177.07 303,173.93 303.5,176.49 304,174.42 304.5,175.13 305,174.01 305.5,175.73 306,172.06 306.5,173.97 307,173.15 307.5,173.35 308,170.72 308.5,173.31 309,171.93 309.5,174.13 310,171.78 310.5,173.29 311,169.81 311.5,172.73 312,169.34 312.5,171.63 313,170.36 313.5,171.93 314,168.71 314.5,170.97 315,168.31 315.5,171.1 316,169.43 316.5,170.23 317,169.19 317.5,171.95 318,168.47 318.5,171.17 319,168.06 319.5,173.27 320,168.09 320.5,170.37 321,169.25 321.5,172.22 322,169.23 322.5,172.05 323,168.36 323.5,172.29 324,168.98 324.5,171.78 325,170.42 325.5,174.62 326,171.2 326.5,172.04 327,170.96 327.5,173.18 328,171.32 328.5,173.24 329,170.68 329.5,173.8 330,169.63 330.5,173.92 331,172.49 331.5,174.21 332,170.41 332.5,174.71 333,172.79 333.5,175.25 334,174.29 334.5,176.97 335,173.24 335.5,179.28 336,175.78 336.5,177.31 337,176.61 337.5,181.1 338,176.04 338.5,178.7 339,177.97 339.5,182.03 340,178.35 340.5,180.6 341,177.96 341.5,183.66 342,178.87 342.5,181.64 343,177.88 343.5,183.71 344,176.19 344.5,181.29 345,177.03 345.5,182.68 346,176.61 346.5,182.67 347,179.1 347.5,182.15 348,178.89 348.5,182.31 349,174.66 349.5,178.76 350,175.98 350.5,178.18 351,176.82 351.5,178.35 352,175.62 352.5,177.26 353,176.13 353.5,176.62 354,174.65 354.5,177.16 355,174.44 355.5,175.96 356,174.07 356.5,176.25 357,174.17 357.5,176.5 358,172.22 358.5,175.28 359,171.68 359.5,174.68 360,173.01 360.5,175.05 361,172.16 361.5,174.52 362,171.77 362.5,172.62 363,171.32 363.5,173.09 364,171.57 364.5,172.73 365,169.71 365.5,172.17 366,169.55 366.5,171.43 367,170.28 367.5,171.77 368,167.4 368.5,172.51 369,170.17 369.5,172.09 370,168.19 370.5,170.31 371,168.72 371.5,171.76 372,168.44 372.5,170.76 373,168.72 373.5,172.17 374,167.76 374.5,170.82 375,168.91 375.5,170.3 376,169.26 376.5,170.91 377,169.34 377.5,171.43 378,168.28 378.5,171.04 379,169.83 379.5,172.73 380,170.51 380.5,172.32 381,169.48 381.5,171.47 382,169.86 382.5,172.77 383,170.53 383.5,173.89 384,171.28 384.5,173.04 385,170.45 385.5,173.99 386,172.2 386.5,175.28 387,171.66 387.5,174.79 388,172.38 388.5,174.77 389,172.37 389.5,174.59 390,172.51 390.5,175.61 391,173.13 391.5,176.31 392,173.46 392.5,176.47 393,174.96 393.5,177.29 394,174.28 394.5,177.06 395,175.2 395.5,180.44 396,176.35 396.5,178.48 397,177.52 397.5,181.8 398,176.28 398.5,180.22 399,176.87 399.5,181.07 400,178.19 400.5,181.04 401,177.94 401.5,181.98 402,178.49 402.5,180.45 403,178.65 403.5,182.88 404,178.61 404.5,181.47 405,179.35 405.5,181.24 406,179.56 406.5,183.04 407,178.51 407.5,182.88 408,178.83 408.5,179.94 409,176.76 409.5,180.83 410,177.19 410.5,178.84 411,177.38 411.5,181.13 412,176.85 412.5,178.28 413,176.23 413.5,177.6 414,175.12 414.5,178.36 415,175.59 415.5,177.04 416,174.25 416.5,177.06 417,173.19 417.5,175.3 418,172.48 418.5,174.53 419,172.43 419.5,174.21 420,172.99 420.5,174.98 421,170.54" fill="none" stroke="#a6a544" stroke-width="0.9" stroke-linejoin="round"/>
<line x1="243.6" y1="222.8" x2="125.47" y2="214.6" stroke="#f64c22" stroke-width="1.9" stroke-dasharray="9.5,4.2"/>
<line x1="120.98" y1="214.28" x2="117.99" y2="214.08" stroke="#f64c22" stroke-width="2.1"/>
<path d="M114,213.8L120.61,210.95L118.59,214.12L120.16,217.54Z" fill="#f64c22"/>
<line x1="335.5" y1="224.3" x2="429.22" y2="219.31" stroke="#f64c22" stroke-width="1.9" stroke-dasharray="9.5,4.2"/>
<line x1="433.71" y1="219.07" x2="436.71" y2="218.91" stroke="#f64c22" stroke-width="2.1"/>
<path d="M440.7,218.7L434.48,222.34L436.11,218.94L434.13,215.74Z" fill="#f64c22"/>
<rect x="243.7" y="202" width="30" height="59.2" fill="none" stroke="#2438f2" stroke-width="1.7" stroke-dasharray="10,4"/>
<rect x="305.6" y="202.4" width="29.8" height="58.8" fill="none" stroke="#2438f2" stroke-width="1.7" stroke-dasharray="10,4"/>
<line x1="275.2" y1="148.5" x2="275.2" y2="254.5" stroke="#ff1c1c" stroke-width="2" stroke-dasharray="2.6,1.9"/>
<line x1="262" y1="165.3" x2="275.2" y2="165.3" stroke="#2a7f98" stroke-width="2.2"/>
<path d="M253.2,165.3L263.8,161.2L261.5,165.3L263.8,169.4Z" fill="#2a7f98"/>
<line x1="275.2" y1="165.3" x2="288" y2="165.3" stroke="#6a9640" stroke-width="2.2"/>
<path d="M296.5,165.3L285.5,161L288,165.3L285.5,169.6Z" fill="#6a9640"/>
<rect x="129.4" y="147.2" width="292.3" height="112.6" fill="none" stroke="#949494" stroke-width="1.7"/>
<path d="M129.3,175.3H125.1V178.4M120.9,178.4H129.3" fill="none" stroke="#111" stroke-width="1.2"/>
<path d="M122.7,178.8L127.1,178.8L124.9,182.1Z" fill="#333"/>
<path d="M129.3,231.3H125.1V234.4M120.9,234.4H129.3" fill="none" stroke="#111" stroke-width="1.2"/>
<path d="M122.7,234.8L127.1,234.8L124.9,238.1Z" fill="#333"/>
<text x="137.4" y="155.3" fill="#25819f" stroke="#25819f" stroke-width="0.28" font-family="Liberation Serif, serif" font-size="10.4">The conventional double-vector</text>
<text x="193.3" y="167.3" fill="#25819f" stroke="#25819f" stroke-width="0.28" font-family="Liberation Serif, serif" font-size="10.4">MPC</text>
<text x="312.2" y="162.4" fill="#789a36" stroke="#789a36" stroke-width="0.12" font-family="Liberation Serif, serif" font-size="10.3">The proposed method</text>
<text x="167.6" y="202.5" fill="#f27a1e" stroke="#f27a1e" stroke-width="0.28" font-family="Liberation Serif, serif" font-style="italic" font-size="10.5">i</text>
<text x="170.4" y="204.1" fill="#f27a1e" stroke="#f27a1e" stroke-width="0.28" font-family="Liberation Serif, serif" font-size="6.9">αref</text>
<text x="217.3" y="202.5" fill="#f27a1e" stroke="#f27a1e" stroke-width="0.28" font-family="Liberation Serif, sans-serif" font-size="10.2" text-anchor="end">(5A/div)</text>
<line x1="197" y1="205" x2="205" y2="215" stroke="#f2862c" stroke-width="0.9"/>
<text x="231" y="202.5" fill="#1c7ad0" stroke="#1c7ad0" stroke-width="0.28" font-family="Liberation Serif, serif" font-style="italic" font-size="10.3">i</text>
<text x="233.8" y="204.1" fill="#1c7ad0" stroke="#1c7ad0" stroke-width="0.28" font-family="Liberation Serif, serif" font-size="7.5">α</text>
<text x="274.3" y="202.5" fill="#1c7ad0" stroke="#1c7ad0" stroke-width="0.28" font-family="Liberation Serif, sans-serif" font-size="10" text-anchor="end">(5A/div)</text>
<line x1="230" y1="205" x2="222" y2="215" stroke="#1c7ad0" stroke-width="0.9"/>
<text x="305.5" y="195.5" fill="#8a6a12" stroke="#8a6a12" stroke-width="0.28" font-family="Liberation Serif, serif" font-size="10.5"><tspan font-style="italic" font-size="11">i</tspan><tspan font-size="7.6" dy="1.8">αref</tspan><tspan dy="-1.8" font-style="italic">-i</tspan><tspan font-size="7.6" dy="1.8">α</tspan></text>
<text x="332.6" y="195.5" fill="#8a6a12" stroke="#8a6a12" stroke-width="0.28" font-family="Liberation Serif, serif" font-size="10.5">(1A/div)</text>
<line x1="309.3" y1="175" x2="323.5" y2="187.3" stroke="#8a6a12" stroke-width="0.9"/>
<text x="374.3" y="259" fill="#111" stroke="#111" stroke-width="0.45" font-family="Liberation Serif, serif" font-size="10.6">10ms/div</text>
<line x1="451" y1="151.6" x2="451" y2="258.2" stroke="#e0e0e0" stroke-width="1"/>
<line x1="497.8" y1="151.6" x2="497.8" y2="258.2" stroke="#e0e0e0" stroke-width="1"/>
<line x1="443.3" y1="179.3" x2="537.6" y2="179.3" stroke="#e0e0e0" stroke-width="1"/>
<line x1="443.3" y1="205.4" x2="537.6" y2="205.4" stroke="#e0e0e0" stroke-width="1"/>
<line x1="443.3" y1="231.9" x2="537.6" y2="231.9" stroke="#e0e0e0" stroke-width="1"/>
<polyline points="443.3,258 443.8,258 444.3,258 444.8,258 445.3,257.84 445.8,257.8 446.3,257.76 446.8,257.71 447.3,257.66 447.8,257.6 448.31,257.52 448.81,257.44 449.31,257.33 449.81,257.21 450.31,256.76 450.81,256.6 451.31,256.43 451.81,256.25 452.31,256.07 452.81,255.87 453.31,255.67 453.81,255.47 454.31,255.26 454.81,255.04 455.31,254.27 455.81,254.01 456.31,253.73 456.81,253.45 457.31,253.16 457.82,252.86 458.32,252.55 458.82,252.23 459.32,251.92 459.82,251.59 460.32,250.51 460.82,250.16 461.32,249.8 461.82,249.42 462.32,249.04 462.82,248.64 463.32,248.23 463.82,247.81 464.32,247.38 464.82,246.94 465.32,245.47 465.82,244.98 466.32,244.49 466.82,243.99 467.33,243.48 467.83,242.96 468.33,242.43 468.83,241.9 469.33,241.35 469.83,240.79 470.33,238.93 470.83,238.31 471.33,237.68 471.83,237.05 472.33,236.41 472.83,235.76 473.33,235.11 473.83,234.45 474.33,233.79 474.83,233.13 475.33,230.99 475.83,230.32 476.34,229.64 476.84,228.97 477.34,228.29 477.84,227.62 478.34,226.94 478.84,226.26 479.34,225.59 479.84,224.92 480.34,222.78 480.84,222.13 481.34,221.48 481.84,220.83 482.34,220.19 482.84,219.55 483.34,218.91 483.84,218.27 484.34,217.62 484.84,216.97 485.34,214.86 485.85,214.19 486.35,213.5 486.85,212.8 487.35,212.09 487.85,211.37 488.35,210.63 488.85,209.88 489.35,209.1 489.85,208.31 490.35,205.65 490.85,204.78 491.35,203.91 491.85,203.02 492.35,202.13 492.85,201.23 493.35,200.33 493.85,199.43 494.35,198.53 494.85,197.63 495.36,194.8 495.86,193.94 496.36,193.09 496.86,192.25 497.36,191.43 497.86,190.61 498.36,189.8 498.86,188.99 499.36,188.2 499.86,187.42 500.36,184.98 500.86,184.25 501.36,183.52 501.86,182.81 502.36,182.11 502.86,181.43 503.36,180.75 503.86,180.09 504.36,179.43 504.87,178.79 505.37,176.79 505.87,176.19 506.37,175.59 506.87,175.01 507.37,174.43 507.87,173.86 508.37,173.3 508.87,172.75 509.37,172.22 509.87,171.69 510.37,170.08 510.87,169.6 511.37,169.12 511.87,168.65 512.37,168.18 512.87,167.72 513.37,167.27 513.88,166.83 514.38,166.39 514.88,165.96 515.38,164.64 515.88,164.25 516.38,163.85 516.88,163.47 517.38,163.09 517.88,162.71 518.38,162.34 518.88,161.97 519.38,161.61 519.88,161.25 520.38,160.14 520.88,159.81 521.38,159.48 521.88,159.15 522.38,158.84 522.88,158.53 523.39,158.22 523.89,157.93 524.39,157.64 524.89,157.35 525.39,156.5 525.89,156.25 526.39,156.01 526.89,155.77 527.39,155.54 527.89,155.31 528.39,155.09 528.89,154.88 529.39,154.67 529.89,154.47 530.39,153.87 530.89,153.7 531.39,153.54 531.89,153.39 532.39,153.24 532.9,153.1 533.4,152.96 533.9,152.83 534.4,152.71 534.9,152.6 535.4,152.33 535.9,152.26 536.4,152.2 536.9,152.14 537.4,152.08" fill="none" stroke="#4648f2" stroke-width="1.6" stroke-linejoin="round"/>
<polyline points="443.3,258 443.8,257.93 444.3,257.87 444.8,257.82 445.3,257.77 445.8,257.71 446.3,257.65 446.8,257.57 447.3,257.47 447.8,257.35 448.31,257.21 448.81,257.05 449.31,256.87 449.81,256.68 450.31,256.48 450.81,256.26 451.31,256.04 451.81,255.8 452.31,255.55 452.81,255.3 453.31,255.03 453.81,254.75 454.31,254.45 454.81,254.14 455.31,253.81 455.81,253.47 456.31,253.11 456.81,252.74 457.31,252.36 457.82,251.97 458.32,251.58 458.82,251.18 459.32,250.76 459.82,250.34 460.32,249.9 460.82,249.44 461.32,248.97 461.82,248.48 462.32,247.98 462.82,247.46 463.32,246.92 463.82,246.37 464.32,245.8 464.82,245.22 465.32,244.63 465.82,244.02 466.32,243.39 466.82,242.76 467.33,242.11 467.83,241.45 468.33,240.77 468.83,240.07 469.33,239.35 469.83,238.62 470.33,237.86 470.83,237.08 471.33,236.3 471.83,235.51 472.33,234.71 472.83,233.91 473.33,233.1 473.83,232.29 474.33,231.47 474.83,230.65 475.33,229.83 475.83,229 476.34,228.18 476.84,227.35 477.34,226.53 477.84,225.7 478.34,224.88 478.84,224.06 479.34,223.25 479.84,222.45 480.34,221.65 480.84,220.87 481.34,220.08 481.84,219.3 482.34,218.52 482.84,217.73 483.34,216.94 483.84,216.14 484.34,215.33 484.84,214.52 485.34,213.68 485.85,212.83 486.35,211.97 486.85,211.08 487.35,210.17 487.85,209.23 488.35,208.27 488.85,207.27 489.35,206.25 489.85,205.2 490.35,204.14 490.85,203.06 491.35,201.97 491.85,200.87 492.35,199.78 492.85,198.68 493.35,197.58 493.85,196.49 494.35,195.42 494.85,194.35 495.36,193.31 495.86,192.29 496.36,191.28 496.86,190.28 497.36,189.3 497.86,188.33 498.36,187.37 498.86,186.43 499.36,185.5 499.86,184.6 500.36,183.71 500.86,182.84 501.36,181.99 501.86,181.15 502.36,180.34 502.86,179.54 503.36,178.75 503.86,177.98 504.36,177.22 504.87,176.47 505.37,175.74 505.87,175.03 506.37,174.32 506.87,173.63 507.37,172.96 507.87,172.3 508.37,171.66 508.87,171.04 509.37,170.43 509.87,169.83 510.37,169.24 510.87,168.66 511.37,168.1 511.87,167.54 512.37,166.99 512.87,166.46 513.37,165.93 513.88,165.42 514.38,164.92 514.88,164.43 515.38,163.95 515.88,163.48 516.38,163.02 516.88,162.56 517.38,162.11 517.88,161.66 518.38,161.23 518.88,160.8 519.38,160.38 519.88,159.96 520.38,159.56 520.88,159.16 521.38,158.78 521.88,158.4 522.38,158.04 522.88,157.68 523.39,157.34 523.89,157 524.39,156.68 524.89,156.37 525.39,156.07 525.89,155.78 526.39,155.5 526.89,155.22 527.39,154.96 527.89,154.7 528.39,154.46 528.89,154.22 529.39,153.99 529.89,153.78 530.39,153.58 530.89,153.39 531.39,153.21 531.89,153.04 532.39,152.88 532.9,152.73 533.4,152.59 533.9,152.48 534.4,152.38 534.9,152.29 535.4,152.21 535.9,152.14 536.4,152.06 536.9,151.99 537.4,151.9" fill="none" stroke="#f2862c" stroke-width="1.3" stroke-linejoin="round"/>
<rect x="443.3" y="151.6" width="94.3" height="106.6" fill="none" stroke="#828282" stroke-width="1.4"/>
<path d="M443.1,205.3H438.9V208.4M434.7,208.4H443.1" fill="none" stroke="#111" stroke-width="1.2"/>
<path d="M436.5,208.8L440.9,208.8L438.7,212.1Z" fill="#333"/>
<text x="448.2" y="179.2" fill="#f27a1e" stroke="#f27a1e" stroke-width="0.28" font-family="Liberation Serif, serif" font-style="italic" font-size="10.9">i</text>
<text x="451" y="180.8" fill="#f27a1e" stroke="#f27a1e" stroke-width="0.28" font-family="Liberation Serif, serif" font-size="6.9">αref</text>
<text x="498.6" y="179.2" fill="#f27a1e" stroke="#f27a1e" stroke-width="0.28" font-family="Liberation Serif, sans-serif" font-size="10.6" text-anchor="end">(5A/div)</text>
<line x1="475.1" y1="183.6" x2="494.7" y2="195.1" stroke="#f2862c" stroke-width="0.9"/>
<text x="494.7" y="233" fill="#1c7ad0" stroke="#1c7ad0" stroke-width="0.28" font-family="Liberation Serif, serif" font-style="italic" font-size="10.9">i</text>
<text x="497.5" y="234.6" fill="#1c7ad0" stroke="#1c7ad0" stroke-width="0.28" font-family="Liberation Serif, serif" font-size="7.5">α</text>
<text x="538.5" y="233" fill="#1c7ad0" stroke="#1c7ad0" stroke-width="0.28" font-family="Liberation Serif, sans-serif" font-size="10.6" text-anchor="end">(5A/div)</text>
<line x1="488.5" y1="211" x2="505.7" y2="219.6" stroke="#1c7ad0" stroke-width="0.9"/>
<text x="500.9" y="255.6" fill="#111" stroke="#111" stroke-width="0.45" font-family="Liberation Serif, serif" font-size="10.6">5ms/div</text>
<text x="268" y="278.9" fill="#111" stroke="#111" stroke-width="0.3" font-family="Liberation Sans, serif" font-size="16.3">(b)</text>
</svg></body></html>
